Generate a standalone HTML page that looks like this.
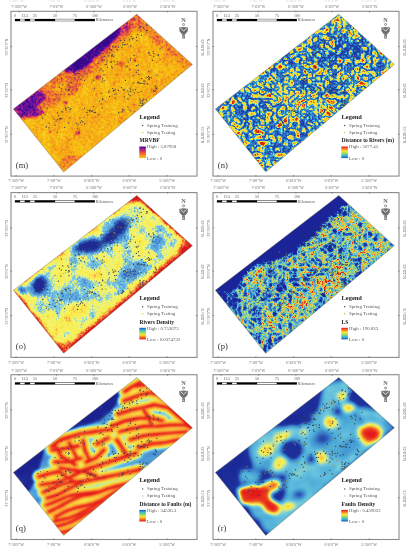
<!DOCTYPE html><html><head><meta charset="utf-8"><style>
html,body{margin:0;padding:0;background:#fff;}
svg{display:block;}
text{font-family:'Liberation Serif',serif;}
.ax{font-size:4.0px;fill:#707070;}
.sb{font-size:3.9px;fill:#555;}
.nn{font-size:6.2px;fill:#666;font-weight:bold;}
.lg{font-size:6.4px;font-weight:bold;fill:#222;}
.lt{font-size:5.5px;font-weight:bold;fill:#222;}
.li{font-size:4.85px;fill:#595959;}
.pl{font-size:8.6px;fill:#333;}
</style></head><body><svg width="410" height="550" viewBox="0 0 410 550"><defs><clipPath id="clipm"><polygon points="125.8,2.9 181.4,53.1 52.7,160.7 2.4,97.7"/></clipPath><filter id="flm" filterUnits="userSpaceOnUse" x="-2" y="-2" width="190" height="168.8" color-interpolation-filters="sRGB"><feGaussianBlur in="SourceGraphic" stdDeviation="1.5" result="s0"/><feTurbulence type="fractalNoise" baseFrequency="0.4" numOctaves="2" seed="3" result="t0"/><feColorMatrix in="t0" type="matrix" values="1 0 0 0 0  1 0 0 0 0  1 0 0 0 0  0 0 0 0 1" result="n0"/><feComposite in="s0" in2="n0" operator="arithmetic" k1="0" k2="0.6944" k3="0.3056" k4="0" result="s1"/><feTurbulence type="fractalNoise" baseFrequency="0.1 0.06" numOctaves="3" seed="4" result="t1"/><feColorMatrix in="t1" type="matrix" values="1 0 0 0 0  1 0 0 0 0  1 0 0 0 0  0 0 0 0 1" result="n1"/><feComposite in="s1" in2="n1" operator="arithmetic" k1="0" k2="0.8372" k3="0.1628" k4="0" result="s2"/><feComponentTransfer in="s2" result="st"><feFuncR type="linear" slope="2.3" intercept="-0.61"/><feFuncG type="linear" slope="2.3" intercept="-0.61"/><feFuncB type="linear" slope="2.3" intercept="-0.61"/><feFuncA type="linear" slope="0" intercept="1"/></feComponentTransfer><feComponentTransfer in="st"><feFuncR type="table" tableValues="0.973 0.972 0.972 0.971 0.971 0.970 0.970 0.970 0.969 0.969 0.968 0.967 0.967 0.966 0.965 0.964 0.963 0.962 0.962 0.961 0.958 0.955 0.953 0.950 0.948 0.945 0.942 0.938 0.932 0.925 0.919 0.913 0.907 0.899 0.885 0.871 0.858 0.844 0.830 0.817 0.792 0.767 0.742 0.718 0.693 0.668 0.637 0.602 0.567 0.532 0.497 0.462 0.431 0.406 0.381 0.356 0.331 0.306 0.288 0.273 0.257 0.242 0.227 0.212"/><feFuncG type="table" tableValues="0.816 0.807 0.797 0.788 0.779 0.770 0.761 0.752 0.743 0.734 0.724 0.715 0.706 0.697 0.688 0.679 0.670 0.660 0.651 0.641 0.625 0.608 0.592 0.575 0.558 0.542 0.525 0.504 0.477 0.451 0.425 0.399 0.373 0.348 0.328 0.308 0.288 0.268 0.249 0.229 0.210 0.191 0.173 0.154 0.135 0.117 0.107 0.102 0.097 0.092 0.087 0.082 0.077 0.073 0.069 0.065 0.060 0.056 0.052 0.048 0.044 0.040 0.036 0.031"/><feFuncB type="table" tableValues="0.125 0.120 0.114 0.108 0.102 0.096 0.091 0.085 0.079 0.073 0.072 0.074 0.077 0.079 0.082 0.084 0.087 0.089 0.092 0.095 0.103 0.112 0.120 0.128 0.136 0.145 0.153 0.162 0.172 0.182 0.192 0.202 0.212 0.224 0.244 0.264 0.284 0.304 0.324 0.344 0.373 0.403 0.433 0.463 0.493 0.523 0.542 0.556 0.569 0.583 0.597 0.611 0.618 0.614 0.610 0.606 0.602 0.597 0.590 0.580 0.570 0.561 0.551 0.541"/><feFuncA type="linear" slope="0" intercept="1"/></feComponentTransfer><feGaussianBlur stdDeviation="0.3"/></filter><linearGradient id="cbm" x1="0" y1="0" x2="0" y2="1"><stop offset="0" stop-color="#4a0c96"/><stop offset="0.25" stop-color="#b01c8a"/><stop offset="0.5" stop-color="#e8483c"/><stop offset="0.75" stop-color="#f88a24"/><stop offset="1" stop-color="#f8c418"/></linearGradient><clipPath id="clipn"><polygon points="125.8,2.9 181.4,53.1 52.7,160.7 2.4,97.7"/></clipPath><filter id="fln" filterUnits="userSpaceOnUse" x="-2" y="-2" width="190" height="168.8" color-interpolation-filters="sRGB"><feGaussianBlur in="SourceGraphic" stdDeviation="3" result="s0"/><feTurbulence type="turbulence" baseFrequency="0.17" numOctaves="2" seed="31" result="t0"/><feColorMatrix in="t0" type="matrix" values="1 0 0 0 0  1 0 0 0 0  1 0 0 0 0  0 0 0 0 1" result="n0"/><feComposite in="s0" in2="n0" operator="arithmetic" k1="0" k2="0.2500" k3="0.7500" k4="0" result="s1"/><feTurbulence type="fractalNoise" baseFrequency="0.035" numOctaves="2" seed="33" result="t1"/><feColorMatrix in="t1" type="matrix" values="1 0 0 0 0  1 0 0 0 0  1 0 0 0 0  0 0 0 0 1" result="n1"/><feComposite in="s1" in2="n1" operator="arithmetic" k1="0" k2="0.8000" k3="0.2000" k4="0" result="s2"/><feComponentTransfer in="s2" result="st"><feFuncR type="linear" slope="1.75" intercept="-0.41"/><feFuncG type="linear" slope="1.75" intercept="-0.41"/><feFuncB type="linear" slope="1.75" intercept="-0.41"/><feFuncA type="linear" slope="0" intercept="1"/></feComponentTransfer><feComponentTransfer in="st"><feFuncR type="table" tableValues="0.122 0.129 0.137 0.145 0.153 0.161 0.170 0.174 0.176 0.177 0.179 0.181 0.183 0.185 0.187 0.189 0.190 0.192 0.194 0.196 0.208 0.220 0.230 0.238 0.245 0.252 0.259 0.266 0.274 0.281 0.370 0.481 0.586 0.673 0.759 0.830 0.895 0.949 0.950 0.951 0.951 0.952 0.953 0.954 0.955 0.955 0.956 0.957 0.958 0.958 0.959 0.960 0.961 0.962 0.962 0.963 0.964 0.965 0.967 0.970 0.971 0.967 0.963 0.959 0.955 0.951 0.947 0.942 0.933 0.920 0.908 0.896 0.883 0.878 0.877 0.875 0.874 0.873 0.872 0.871 0.870 0.869 0.867 0.866 0.865 0.864 0.863 0.862 0.860 0.859 0.858 0.857 0.856 0.855 0.854 0.852 0.851 0.850 0.849 0.848 0.847 0.846 0.844 0.843 0.842 0.841 0.840 0.839 0.838 0.836 0.835 0.834 0.833 0.832 0.831 0.829 0.828 0.827 0.826 0.825 0.824 0.823 0.821 0.820 0.819 0.818 0.817 0.816"/><feFuncG type="table" tableValues="0.243 0.271 0.299 0.327 0.356 0.385 0.413 0.426 0.430 0.433 0.437 0.441 0.444 0.448 0.452 0.456 0.459 0.463 0.467 0.470 0.535 0.603 0.648 0.661 0.673 0.685 0.698 0.710 0.722 0.735 0.767 0.804 0.836 0.855 0.873 0.881 0.884 0.886 0.885 0.884 0.883 0.881 0.880 0.879 0.878 0.877 0.876 0.874 0.873 0.872 0.871 0.870 0.869 0.868 0.866 0.865 0.864 0.863 0.784 0.691 0.622 0.606 0.589 0.573 0.556 0.540 0.524 0.507 0.455 0.387 0.319 0.251 0.183 0.156 0.155 0.154 0.153 0.152 0.150 0.149 0.148 0.147 0.146 0.145 0.144 0.142 0.141 0.140 0.139 0.138 0.137 0.135 0.134 0.133 0.132 0.131 0.130 0.129 0.127 0.126 0.125 0.124 0.123 0.122 0.121 0.119 0.118 0.117 0.116 0.115 0.114 0.113 0.111 0.110 0.109 0.108 0.107 0.106 0.104 0.103 0.102 0.101 0.100 0.099 0.098 0.096 0.095 0.094"/><feFuncB type="table" tableValues="0.651 0.666 0.682 0.700 0.720 0.741 0.761 0.769 0.771 0.772 0.773 0.774 0.776 0.777 0.778 0.779 0.781 0.782 0.783 0.784 0.808 0.832 0.845 0.841 0.837 0.833 0.829 0.825 0.821 0.817 0.738 0.639 0.552 0.503 0.454 0.382 0.302 0.235 0.234 0.234 0.233 0.232 0.231 0.231 0.230 0.229 0.228 0.227 0.227 0.226 0.225 0.224 0.224 0.223 0.222 0.221 0.220 0.220 0.199 0.174 0.156 0.151 0.147 0.143 0.139 0.135 0.131 0.127 0.121 0.115 0.109 0.103 0.097 0.094 0.094 0.094 0.094 0.094 0.094 0.094 0.094 0.094 0.094 0.094 0.094 0.094 0.094 0.094 0.094 0.094 0.094 0.094 0.094 0.094 0.094 0.094 0.094 0.094 0.094 0.094 0.094 0.094 0.094 0.094 0.094 0.094 0.094 0.094 0.094 0.094 0.094 0.094 0.094 0.094 0.094 0.094 0.094 0.094 0.094 0.094 0.094 0.094 0.094 0.094 0.094 0.094 0.094 0.094"/><feFuncA type="linear" slope="0" intercept="1"/></feComponentTransfer><feGaussianBlur stdDeviation="0.6"/></filter><linearGradient id="cbn" x1="0" y1="0" x2="0" y2="1"><stop offset="0" stop-color="#e8141c"/><stop offset="0.2" stop-color="#f87c20"/><stop offset="0.4" stop-color="#f8e838"/><stop offset="0.6" stop-color="#98d860"/><stop offset="0.8" stop-color="#30b8e0"/><stop offset="1" stop-color="#2050b8"/></linearGradient><clipPath id="clipo"><polygon points="125.8,2.9 181.4,53.1 52.7,160.7 2.4,97.7"/></clipPath><filter id="flo" filterUnits="userSpaceOnUse" x="-2" y="-2" width="190" height="168.8" color-interpolation-filters="sRGB"><feGaussianBlur in="SourceGraphic" stdDeviation="3" result="s0"/><feTurbulence type="fractalNoise" baseFrequency="0.09" numOctaves="3" seed="24" result="t0"/><feColorMatrix in="t0" type="matrix" values="1 0 0 0 0  1 0 0 0 0  1 0 0 0 0  0 0 0 0 1" result="n0"/><feComposite in="s0" in2="n0" operator="arithmetic" k1="0" k2="0.7955" k3="0.2045" k4="0" result="s1"/><feTurbulence type="fractalNoise" baseFrequency="0.6" numOctaves="1" seed="22" result="t1"/><feColorMatrix in="t1" type="matrix" values="1 0 0 0 0  1 0 0 0 0  1 0 0 0 0  0 0 0 0 1" result="n1"/><feComposite in="s1" in2="n1" operator="arithmetic" k1="0" k2="0.8800" k3="0.1200" k4="0" result="s2"/><feComponentTransfer in="s2" result="st"><feFuncR type="linear" slope="2.56" intercept="-0.77"/><feFuncG type="linear" slope="2.56" intercept="-0.77"/><feFuncB type="linear" slope="2.56" intercept="-0.77"/><feFuncA type="linear" slope="0" intercept="1"/></feComponentTransfer><feComponentTransfer in="st"><feFuncR type="table" tableValues="0.843 0.854 0.864 0.875 0.885 0.896 0.907 0.919 0.931 0.943 0.956 0.968 0.975 0.978 0.982 0.986 0.987 0.982 0.977 0.972 0.971 0.969 0.968 0.966 0.965 0.963 0.962 0.960 0.958 0.955 0.887 0.819 0.735 0.635 0.535 0.503 0.472 0.441 0.409 0.378 0.362 0.347 0.333 0.318 0.303 0.288 0.273 0.258 0.243 0.228 0.213 0.198 0.186 0.180 0.174 0.169 0.163 0.157 0.151 0.145 0.139 0.133 0.127 0.122"/><feFuncG type="table" tableValues="0.098 0.129 0.159 0.190 0.220 0.251 0.281 0.326 0.377 0.429 0.480 0.532 0.584 0.638 0.691 0.744 0.796 0.840 0.885 0.926 0.929 0.932 0.935 0.938 0.941 0.944 0.948 0.951 0.954 0.956 0.938 0.919 0.891 0.854 0.816 0.791 0.766 0.741 0.717 0.692 0.667 0.642 0.617 0.592 0.567 0.542 0.517 0.492 0.468 0.443 0.418 0.393 0.370 0.352 0.334 0.315 0.297 0.279 0.260 0.242 0.224 0.205 0.187 0.169"/><feFuncB type="table" tableValues="0.110 0.119 0.127 0.136 0.145 0.153 0.162 0.175 0.189 0.203 0.217 0.231 0.247 0.265 0.283 0.300 0.311 0.301 0.291 0.284 0.299 0.315 0.331 0.346 0.362 0.377 0.393 0.408 0.424 0.441 0.515 0.590 0.677 0.777 0.876 0.878 0.878 0.878 0.878 0.878 0.869 0.859 0.849 0.839 0.829 0.819 0.806 0.791 0.776 0.761 0.746 0.731 0.717 0.704 0.691 0.678 0.665 0.651 0.638 0.625 0.612 0.599 0.586 0.573"/><feFuncA type="linear" slope="0" intercept="1"/></feComponentTransfer></filter><linearGradient id="cbo" x1="0" y1="0" x2="0" y2="1"><stop offset="0" stop-color="#2050b8"/><stop offset="0.2" stop-color="#30b8e0"/><stop offset="0.4" stop-color="#98d860"/><stop offset="0.6" stop-color="#f8e838"/><stop offset="0.8" stop-color="#f87c20"/><stop offset="1" stop-color="#e8141c"/></linearGradient><clipPath id="clipp"><polygon points="125.8,2.9 181.4,53.1 52.7,160.7 2.4,97.7"/></clipPath><filter id="flp" filterUnits="userSpaceOnUse" x="-2" y="-2" width="190" height="168.8" color-interpolation-filters="sRGB"><feGaussianBlur in="SourceGraphic" stdDeviation="3" result="s0"/><feTurbulence type="fractalNoise" baseFrequency="0.9" numOctaves="1" seed="41" result="t0"/><feColorMatrix in="t0" type="matrix" values="1 0 0 0 0  1 0 0 0 0  1 0 0 0 0  0 0 0 0 1" result="n0"/><feComposite in="s0" in2="n0" operator="arithmetic" k1="0" k2="0.8929" k3="0.1071" k4="0" result="s1"/><feTurbulence type="turbulence" baseFrequency="0.08" numOctaves="2" seed="42" result="t1"/><feColorMatrix in="t1" type="matrix" values="-1 0 0 0 1  -1 0 0 0 1  -1 0 0 0 1  0 0 0 0 1" result="n1"/><feComposite in="s1" in2="n1" operator="arithmetic" k1="0" k2="0.7368" k3="0.2632" k4="0" result="s2"/><feTurbulence type="turbulence" baseFrequency="0.2" numOctaves="2" seed="43" result="t2"/><feColorMatrix in="t2" type="matrix" values="-1 0 0 0 1  -1 0 0 0 1  -1 0 0 0 1  0 0 0 0 1" result="n2"/><feComposite in="s2" in2="n2" operator="arithmetic" k1="0" k2="0.7600" k3="0.2400" k4="0" result="s3"/><feComponentTransfer in="s3" result="st"><feFuncR type="linear" slope="4.5" intercept="-2.37"/><feFuncG type="linear" slope="4.5" intercept="-2.37"/><feFuncB type="linear" slope="4.5" intercept="-2.37"/><feFuncA type="linear" slope="0" intercept="1"/></feComponentTransfer><feComponentTransfer in="st"><feFuncR type="table" tableValues="0.102 0.105 0.108 0.111 0.114 0.117 0.120 0.131 0.148 0.164 0.180 0.209 0.243 0.276 0.305 0.332 0.359 0.398 0.456 0.515 0.578 0.658 0.738 0.818 0.872 0.911 0.951 0.963 0.941 0.919 0.889 0.852 0.816"/><feFuncG type="table" tableValues="0.141 0.155 0.168 0.182 0.195 0.209 0.222 0.258 0.309 0.360 0.411 0.472 0.536 0.599 0.649 0.689 0.728 0.760 0.780 0.799 0.819 0.836 0.854 0.872 0.828 0.750 0.671 0.560 0.408 0.255 0.161 0.112 0.063"/><feFuncB type="table" tableValues="0.596 0.603 0.611 0.618 0.625 0.633 0.640 0.663 0.695 0.728 0.761 0.787 0.812 0.836 0.842 0.832 0.822 0.787 0.709 0.631 0.553 0.482 0.411 0.339 0.289 0.249 0.210 0.179 0.157 0.135 0.112 0.087 0.063"/><feFuncA type="linear" slope="0" intercept="1"/></feComponentTransfer><feGaussianBlur stdDeviation="0.35"/></filter><linearGradient id="cbp" x1="0" y1="0" x2="0" y2="1"><stop offset="0" stop-color="#e8141c"/><stop offset="0.2" stop-color="#f87c20"/><stop offset="0.4" stop-color="#f8e838"/><stop offset="0.6" stop-color="#98d860"/><stop offset="0.8" stop-color="#30b8e0"/><stop offset="1" stop-color="#2050b8"/></linearGradient><clipPath id="clipq"><polygon points="125.8,2.9 181.4,53.1 52.7,160.7 2.4,97.7"/></clipPath><filter id="flq" filterUnits="userSpaceOnUse" x="-2" y="-2" width="190" height="168.8" color-interpolation-filters="sRGB"><feGaussianBlur in="SourceGraphic" stdDeviation="1.2" result="fld"/><feTurbulence type="fractalNoise" baseFrequency="0.08" numOctaves="2" seed="51" result="t"/><feColorMatrix in="t" type="matrix" values="1 0 0 0 0  1 0 0 0 0  1 0 0 0 0  0 0 0 0 1" result="nz"/><feComposite in="fld" in2="nz" operator="arithmetic" k1="0" k2="1" k3="0.1" k4="-0.05" result="sum"/><feComponentTransfer in="sum"><feFuncR type="table" tableValues="0.894 0.906 0.919 0.931 0.940 0.949 0.958 0.967 0.973 0.973 0.973 0.973 0.973 0.973 0.973 0.973 0.925 0.876 0.827 0.730 0.616 0.515 0.464 0.413 0.361 0.317 0.276 0.236 0.195 0.171 0.151 0.130 0.110"/><feFuncG type="table" tableValues="0.102 0.141 0.180 0.220 0.281 0.347 0.414 0.480 0.541 0.588 0.634 0.681 0.729 0.778 0.827 0.876 0.893 0.907 0.922 0.898 0.861 0.823 0.783 0.743 0.703 0.635 0.553 0.471 0.390 0.323 0.260 0.197 0.133"/><feFuncB type="table" tableValues="0.110 0.115 0.120 0.125 0.134 0.144 0.155 0.165 0.176 0.186 0.196 0.206 0.217 0.228 0.239 0.251 0.340 0.434 0.527 0.651 0.786 0.894 0.891 0.889 0.887 0.863 0.828 0.793 0.758 0.712 0.663 0.614 0.565"/><feFuncA type="linear" slope="0" intercept="1"/></feComponentTransfer></filter><linearGradient id="cbq" x1="0" y1="0" x2="0" y2="1"><stop offset="0" stop-color="#2050b8"/><stop offset="0.2" stop-color="#30b8e0"/><stop offset="0.4" stop-color="#98d860"/><stop offset="0.6" stop-color="#f8e838"/><stop offset="0.8" stop-color="#f87c20"/><stop offset="1" stop-color="#e8141c"/></linearGradient><clipPath id="clipr"><polygon points="125.8,2.9 181.4,53.1 52.7,160.7 2.4,97.7"/></clipPath><filter id="flr" filterUnits="userSpaceOnUse" x="-2" y="-2" width="190" height="168.8" color-interpolation-filters="sRGB"><feGaussianBlur in="SourceGraphic" stdDeviation="2.6" result="fld"/><feTurbulence type="fractalNoise" baseFrequency="0.05" numOctaves="2" seed="11" result="t"/><feColorMatrix in="t" type="matrix" values="1 0 0 0 0  1 0 0 0 0  1 0 0 0 0  0 0 0 0 1" result="nz"/><feComposite in="fld" in2="nz" operator="arithmetic" k1="0" k2="1" k3="0.25" k4="-0.12" result="sum"/><feComponentTransfer in="sum"><feFuncR type="table" tableValues="0.102 0.105 0.108 0.111 0.114 0.117 0.120 0.138 0.166 0.193 0.221 0.239 0.254 0.269 0.284 0.315 0.357 0.399 0.474 0.599 0.724 0.821 0.891 0.962 0.967 0.970 0.972 0.963 0.951 0.938 0.924 0.909 0.894"/><feFuncG type="table" tableValues="0.141 0.152 0.163 0.174 0.185 0.196 0.207 0.252 0.320 0.387 0.454 0.505 0.550 0.595 0.641 0.682 0.722 0.761 0.800 0.838 0.876 0.904 0.922 0.940 0.866 0.787 0.709 0.590 0.458 0.337 0.259 0.180 0.102"/><feFuncB type="table" tableValues="0.580 0.588 0.595 0.602 0.610 0.617 0.625 0.651 0.690 0.728 0.767 0.789 0.806 0.823 0.840 0.853 0.863 0.873 0.840 0.745 0.650 0.545 0.432 0.318 0.285 0.256 0.227 0.196 0.166 0.139 0.129 0.120 0.110"/><feFuncA type="linear" slope="0" intercept="1"/></feComponentTransfer></filter><linearGradient id="cbr" x1="0" y1="0" x2="0" y2="1"><stop offset="0" stop-color="#e8141c"/><stop offset="0.2" stop-color="#f87c20"/><stop offset="0.4" stop-color="#f8e838"/><stop offset="0.6" stop-color="#98d860"/><stop offset="0.8" stop-color="#30b8e0"/><stop offset="1" stop-color="#2050b8"/></linearGradient><g id="dots"><circle cx="118.65" cy="27.39" r="0.55" fill="#b09838"/><circle cx="118.65" cy="28.5" r="0.62" fill="#2c3850"/><circle cx="103.09" cy="40.31" r="0.55" fill="#b09838"/><circle cx="107.56" cy="35.85" r="0.62" fill="#2c3850"/><circle cx="143.08" cy="12.22" r="0.55" fill="#b09838"/><circle cx="120.29" cy="25.44" r="0.62" fill="#2c3850"/><circle cx="121.79" cy="29.55" r="0.55" fill="#b09838"/><circle cx="117.66" cy="27.12" r="0.55" fill="#b09838"/><circle cx="119.03" cy="30.5" r="0.55" fill="#b09838"/><circle cx="106.18" cy="38.2" r="0.62" fill="#2c3850"/><circle cx="135.69" cy="19.11" r="0.62" fill="#2c3850"/><circle cx="113.7" cy="28.97" r="0.62" fill="#2c3850"/><circle cx="127.33" cy="24.81" r="0.55" fill="#b09838"/><circle cx="117.89" cy="26.94" r="0.55" fill="#b09838"/><circle cx="100.99" cy="44.92" r="0.62" fill="#2c3850"/><circle cx="136.69" cy="20.4" r="0.55" fill="#b09838"/><circle cx="129.37" cy="15.26" r="0.62" fill="#2c3850"/><circle cx="128.41" cy="21.1" r="0.55" fill="#b09838"/><circle cx="100.75" cy="44.25" r="0.62" fill="#2c3850"/><circle cx="100.46" cy="48.16" r="0.55" fill="#b09838"/><circle cx="114.08" cy="33.26" r="0.62" fill="#2c3850"/><circle cx="122.11" cy="26.99" r="0.62" fill="#2c3850"/><circle cx="128.88" cy="19.5" r="0.55" fill="#b09838"/><circle cx="101.79" cy="43.43" r="0.55" fill="#b09838"/><circle cx="116.21" cy="32.77" r="0.62" fill="#2c3850"/><circle cx="135.61" cy="13.52" r="0.62" fill="#2c3850"/><circle cx="113.49" cy="33.24" r="0.62" fill="#2c3850"/><circle cx="115.91" cy="27.19" r="0.55" fill="#b09838"/><circle cx="121.45" cy="27.64" r="0.62" fill="#2c3850"/><circle cx="125.63" cy="26.18" r="0.62" fill="#2c3850"/><circle cx="120.67" cy="27.19" r="0.55" fill="#b09838"/><circle cx="117.04" cy="29.81" r="0.55" fill="#b09838"/><circle cx="143.2" cy="11.99" r="0.55" fill="#b09838"/><circle cx="106.92" cy="38.71" r="0.62" fill="#2c3850"/><circle cx="111.93" cy="31.23" r="0.62" fill="#2c3850"/><circle cx="117.34" cy="36.01" r="0.55" fill="#b09838"/><circle cx="110" cy="34.76" r="0.55" fill="#b09838"/><circle cx="110.85" cy="36.23" r="0.62" fill="#2c3850"/><circle cx="118.93" cy="29.75" r="0.55" fill="#b09838"/><circle cx="136.35" cy="19.2" r="0.62" fill="#2c3850"/><circle cx="107.14" cy="34.22" r="0.55" fill="#b09838"/><circle cx="126.29" cy="23.05" r="0.62" fill="#2c3850"/><circle cx="101.29" cy="43.36" r="0.62" fill="#2c3850"/><circle cx="126.03" cy="28.96" r="0.62" fill="#2c3850"/><circle cx="119.54" cy="34.59" r="0.62" fill="#2c3850"/><circle cx="96.11" cy="49.58" r="0.62" fill="#2c3850"/><circle cx="89.74" cy="42.32" r="0.62" fill="#2c3850"/><circle cx="100.52" cy="50.52" r="0.62" fill="#2c3850"/><circle cx="93.3" cy="48.53" r="0.62" fill="#2c3850"/><circle cx="93.11" cy="63.65" r="0.62" fill="#2c3850"/><circle cx="91.98" cy="48.99" r="0.62" fill="#2c3850"/><circle cx="96.57" cy="55.95" r="0.62" fill="#2c3850"/><circle cx="100.57" cy="55.2" r="0.62" fill="#2c3850"/><circle cx="106.34" cy="50.26" r="0.62" fill="#2c3850"/><circle cx="88.76" cy="56.01" r="0.55" fill="#b09838"/><circle cx="102.95" cy="50.06" r="0.62" fill="#2c3850"/><circle cx="86.92" cy="51.95" r="0.55" fill="#b09838"/><circle cx="108.34" cy="58.6" r="0.55" fill="#b09838"/><circle cx="90.06" cy="57.69" r="0.62" fill="#2c3850"/><circle cx="103.74" cy="53.14" r="0.55" fill="#b09838"/><circle cx="91.92" cy="59.64" r="0.62" fill="#2c3850"/><circle cx="103.78" cy="51.09" r="0.55" fill="#b09838"/><circle cx="91.6" cy="67.39" r="0.62" fill="#2c3850"/><circle cx="96.47" cy="53.92" r="0.55" fill="#b09838"/><circle cx="95.38" cy="52.75" r="0.62" fill="#2c3850"/><circle cx="93.33" cy="45.17" r="0.62" fill="#2c3850"/><circle cx="86.82" cy="52.31" r="0.62" fill="#2c3850"/><circle cx="94.25" cy="53.25" r="0.62" fill="#2c3850"/><circle cx="99.74" cy="50.75" r="0.62" fill="#2c3850"/><circle cx="101.12" cy="56.58" r="0.62" fill="#2c3850"/><circle cx="119.29" cy="48.89" r="0.62" fill="#2c3850"/><circle cx="125.89" cy="54.4" r="0.62" fill="#2c3850"/><circle cx="118.93" cy="58.42" r="0.62" fill="#2c3850"/><circle cx="126.59" cy="55.04" r="0.55" fill="#b09838"/><circle cx="106.3" cy="52.69" r="0.62" fill="#2c3850"/><circle cx="117.3" cy="50.84" r="0.62" fill="#2c3850"/><circle cx="125.36" cy="54.2" r="0.62" fill="#2c3850"/><circle cx="124.07" cy="54.24" r="0.55" fill="#b09838"/><circle cx="127.26" cy="53.49" r="0.62" fill="#2c3850"/><circle cx="116.3" cy="54.69" r="0.62" fill="#2c3850"/><circle cx="127.44" cy="59.08" r="0.62" fill="#2c3850"/><circle cx="117.87" cy="50.69" r="0.55" fill="#b09838"/><circle cx="124.44" cy="49.61" r="0.62" fill="#2c3850"/><circle cx="115.11" cy="55.59" r="0.62" fill="#2c3850"/><circle cx="123.03" cy="44.09" r="0.62" fill="#2c3850"/><circle cx="119.81" cy="46.98" r="0.62" fill="#2c3850"/><circle cx="137.75" cy="59.74" r="0.62" fill="#2c3850"/><circle cx="130.7" cy="66.99" r="0.62" fill="#2c3850"/><circle cx="138.11" cy="67.53" r="0.62" fill="#2c3850"/><circle cx="116.93" cy="87.29" r="0.62" fill="#2c3850"/><circle cx="130.98" cy="72.03" r="0.62" fill="#2c3850"/><circle cx="137.48" cy="65.08" r="0.62" fill="#2c3850"/><circle cx="130.05" cy="67.92" r="0.55" fill="#b09838"/><circle cx="115.52" cy="88.18" r="0.55" fill="#b09838"/><circle cx="122.16" cy="78.72" r="0.62" fill="#2c3850"/><circle cx="144.66" cy="68.76" r="0.55" fill="#b09838"/><circle cx="127.25" cy="70.81" r="0.62" fill="#2c3850"/><circle cx="138.02" cy="67.59" r="0.62" fill="#2c3850"/><circle cx="124.51" cy="78.44" r="0.62" fill="#2c3850"/><circle cx="145.78" cy="63.61" r="0.62" fill="#2c3850"/><circle cx="120.19" cy="75.74" r="0.55" fill="#b09838"/><circle cx="140.2" cy="66.54" r="0.62" fill="#2c3850"/><circle cx="130.18" cy="80.04" r="0.62" fill="#2c3850"/><circle cx="119.16" cy="80.32" r="0.62" fill="#2c3850"/><circle cx="128.72" cy="72.31" r="0.62" fill="#2c3850"/><circle cx="115.72" cy="78.81" r="0.55" fill="#b09838"/><circle cx="129.26" cy="63.18" r="0.55" fill="#b09838"/><circle cx="129.9" cy="71.88" r="0.62" fill="#2c3850"/><circle cx="132.97" cy="72.29" r="0.62" fill="#2c3850"/><circle cx="122.4" cy="71.38" r="0.55" fill="#b09838"/><circle cx="119.59" cy="78.53" r="0.62" fill="#2c3850"/><circle cx="123.09" cy="81.52" r="0.62" fill="#2c3850"/><circle cx="136.49" cy="72.62" r="0.62" fill="#2c3850"/><circle cx="125.43" cy="60.82" r="0.62" fill="#2c3850"/><circle cx="127.13" cy="80.96" r="0.62" fill="#2c3850"/><circle cx="135.09" cy="79.76" r="0.55" fill="#b09838"/><circle cx="136.14" cy="66.13" r="0.62" fill="#2c3850"/><circle cx="113.3" cy="78.05" r="0.62" fill="#2c3850"/><circle cx="133.2" cy="72.33" r="0.62" fill="#2c3850"/><circle cx="132.89" cy="69.79" r="0.62" fill="#2c3850"/><circle cx="126.62" cy="69.78" r="0.55" fill="#b09838"/><circle cx="126.81" cy="71.79" r="0.62" fill="#2c3850"/><circle cx="119.07" cy="76.72" r="0.62" fill="#2c3850"/><circle cx="121.03" cy="80.01" r="0.55" fill="#b09838"/><circle cx="128.04" cy="72.13" r="0.55" fill="#b09838"/><circle cx="123.55" cy="85.94" r="0.55" fill="#b09838"/><circle cx="125.21" cy="76.69" r="0.55" fill="#b09838"/><circle cx="138.91" cy="61" r="0.55" fill="#b09838"/><circle cx="134.77" cy="66.85" r="0.55" fill="#b09838"/><circle cx="121.5" cy="90.91" r="0.55" fill="#b09838"/><circle cx="122.16" cy="63.74" r="0.62" fill="#2c3850"/><circle cx="121.66" cy="64.58" r="0.55" fill="#b09838"/><circle cx="114.47" cy="69.19" r="0.62" fill="#2c3850"/><circle cx="134.12" cy="69.8" r="0.62" fill="#2c3850"/><circle cx="120.77" cy="84.82" r="0.55" fill="#b09838"/><circle cx="138.64" cy="66.22" r="0.62" fill="#2c3850"/><circle cx="117.74" cy="82.86" r="0.62" fill="#2c3850"/><circle cx="117.2" cy="72.43" r="0.55" fill="#b09838"/><circle cx="122.67" cy="71.63" r="0.62" fill="#2c3850"/><circle cx="127.71" cy="71.08" r="0.62" fill="#2c3850"/><circle cx="127.8" cy="63.1" r="0.62" fill="#2c3850"/><circle cx="73.47" cy="69.2" r="0.62" fill="#2c3850"/><circle cx="61.07" cy="70.03" r="0.55" fill="#b09838"/><circle cx="67.98" cy="65.78" r="0.62" fill="#2c3850"/><circle cx="73.38" cy="63.38" r="0.55" fill="#b09838"/><circle cx="69.87" cy="67.95" r="0.62" fill="#2c3850"/><circle cx="60.2" cy="71.28" r="0.62" fill="#2c3850"/><circle cx="64.17" cy="63.07" r="0.62" fill="#2c3850"/><circle cx="67.08" cy="62.16" r="0.62" fill="#2c3850"/><circle cx="68.47" cy="67.08" r="0.55" fill="#b09838"/><circle cx="63.89" cy="66.43" r="0.62" fill="#2c3850"/><circle cx="72.06" cy="65.3" r="0.62" fill="#2c3850"/><circle cx="68.22" cy="62.09" r="0.62" fill="#2c3850"/><circle cx="60.12" cy="69.18" r="0.55" fill="#b09838"/><circle cx="73.32" cy="61.2" r="0.55" fill="#b09838"/><circle cx="70.93" cy="65.26" r="0.55" fill="#b09838"/><circle cx="66.15" cy="59.35" r="0.55" fill="#b09838"/><circle cx="71.23" cy="74.98" r="0.55" fill="#b09838"/><circle cx="73.54" cy="57.02" r="0.62" fill="#2c3850"/><circle cx="49.99" cy="83.44" r="0.62" fill="#2c3850"/><circle cx="48.43" cy="75.99" r="0.62" fill="#2c3850"/><circle cx="58.41" cy="78.58" r="0.62" fill="#2c3850"/><circle cx="50.43" cy="66.47" r="0.62" fill="#2c3850"/><circle cx="63.01" cy="76.87" r="0.55" fill="#b09838"/><circle cx="52.7" cy="80.83" r="0.55" fill="#b09838"/><circle cx="47.35" cy="88.57" r="0.62" fill="#2c3850"/><circle cx="61.84" cy="74.37" r="0.55" fill="#b09838"/><circle cx="57.59" cy="77.98" r="0.62" fill="#2c3850"/><circle cx="56.86" cy="73.35" r="0.62" fill="#2c3850"/><circle cx="50.34" cy="77.5" r="0.62" fill="#2c3850"/><circle cx="51.8" cy="73.35" r="0.62" fill="#2c3850"/><circle cx="44" cy="82.65" r="0.62" fill="#2c3850"/><circle cx="58.03" cy="83.1" r="0.62" fill="#2c3850"/><circle cx="57.24" cy="79.52" r="0.62" fill="#2c3850"/><circle cx="54.97" cy="77.82" r="0.62" fill="#2c3850"/><circle cx="57.83" cy="74.47" r="0.62" fill="#2c3850"/><circle cx="54.22" cy="80.23" r="0.55" fill="#b09838"/><circle cx="102.26" cy="79.59" r="0.62" fill="#2c3850"/><circle cx="105.21" cy="82.69" r="0.62" fill="#2c3850"/><circle cx="91.19" cy="96.58" r="0.62" fill="#2c3850"/><circle cx="110.76" cy="76.43" r="0.62" fill="#2c3850"/><circle cx="103.57" cy="82.95" r="0.62" fill="#2c3850"/><circle cx="98.11" cy="79.65" r="0.62" fill="#2c3850"/><circle cx="118.21" cy="72.55" r="0.55" fill="#b09838"/><circle cx="116.86" cy="79.73" r="0.62" fill="#2c3850"/><circle cx="104.4" cy="86.74" r="0.62" fill="#2c3850"/><circle cx="103.72" cy="77.48" r="0.55" fill="#b09838"/><circle cx="98.48" cy="85.15" r="0.62" fill="#2c3850"/><circle cx="112.32" cy="78.89" r="0.62" fill="#2c3850"/><circle cx="104.66" cy="78.48" r="0.62" fill="#2c3850"/><circle cx="91.86" cy="88.32" r="0.62" fill="#2c3850"/><circle cx="94.78" cy="89.68" r="0.55" fill="#b09838"/><circle cx="103.02" cy="79.17" r="0.62" fill="#2c3850"/><circle cx="119.14" cy="84.37" r="0.62" fill="#2c3850"/><circle cx="97.79" cy="81.3" r="0.62" fill="#2c3850"/><circle cx="113.66" cy="85.56" r="0.62" fill="#2c3850"/><circle cx="90.25" cy="81.93" r="0.62" fill="#2c3850"/><circle cx="101.72" cy="77.21" r="0.62" fill="#2c3850"/><circle cx="109.33" cy="74.97" r="0.55" fill="#b09838"/><circle cx="105.45" cy="88.28" r="0.55" fill="#b09838"/><circle cx="114.01" cy="79.82" r="0.55" fill="#b09838"/><circle cx="107.46" cy="78.98" r="0.62" fill="#2c3850"/><circle cx="90.81" cy="92.75" r="0.55" fill="#b09838"/><circle cx="78.84" cy="97.4" r="0.55" fill="#b09838"/><circle cx="81.61" cy="99.05" r="0.55" fill="#b09838"/><circle cx="88.7" cy="90.03" r="0.62" fill="#2c3850"/><circle cx="73.42" cy="97.07" r="0.62" fill="#2c3850"/><circle cx="73.58" cy="105.88" r="0.55" fill="#b09838"/><circle cx="86.92" cy="93.65" r="0.55" fill="#b09838"/><circle cx="79.85" cy="98.9" r="0.62" fill="#2c3850"/><circle cx="76.92" cy="99.03" r="0.62" fill="#2c3850"/><circle cx="75.95" cy="101.14" r="0.62" fill="#2c3850"/><circle cx="93.41" cy="89.34" r="0.55" fill="#b09838"/><circle cx="91.55" cy="87.37" r="0.62" fill="#2c3850"/><circle cx="84.69" cy="96.72" r="0.55" fill="#b09838"/><circle cx="81.34" cy="99.81" r="0.62" fill="#2c3850"/><circle cx="82.96" cy="101.09" r="0.62" fill="#2c3850"/><circle cx="80.76" cy="100.05" r="0.62" fill="#2c3850"/><circle cx="85.45" cy="88.48" r="0.55" fill="#b09838"/><circle cx="82.61" cy="94.97" r="0.62" fill="#2c3850"/><circle cx="78.85" cy="100.46" r="0.62" fill="#2c3850"/><circle cx="90.2" cy="92.45" r="0.62" fill="#2c3850"/><circle cx="97.07" cy="87.56" r="0.55" fill="#b09838"/><circle cx="94.68" cy="96.25" r="0.55" fill="#b09838"/><circle cx="47.41" cy="104.51" r="0.62" fill="#2c3850"/><circle cx="44.02" cy="113.98" r="0.62" fill="#2c3850"/><circle cx="49.22" cy="107.34" r="0.62" fill="#2c3850"/><circle cx="51.62" cy="100.66" r="0.62" fill="#2c3850"/><circle cx="46.55" cy="101.47" r="0.62" fill="#2c3850"/><circle cx="37.61" cy="117.84" r="0.55" fill="#b09838"/><circle cx="46.42" cy="108.22" r="0.62" fill="#2c3850"/><circle cx="50.96" cy="107.22" r="0.62" fill="#2c3850"/><circle cx="45.16" cy="109.86" r="0.62" fill="#2c3850"/><circle cx="35.37" cy="115.58" r="0.62" fill="#2c3850"/><circle cx="50.42" cy="100.56" r="0.62" fill="#2c3850"/><circle cx="49.99" cy="107.47" r="0.62" fill="#2c3850"/><circle cx="42.92" cy="107.71" r="0.62" fill="#2c3850"/><circle cx="50.81" cy="111.47" r="0.55" fill="#b09838"/><circle cx="38.1" cy="111.81" r="0.62" fill="#2c3850"/><circle cx="59.06" cy="98.15" r="0.62" fill="#2c3850"/><circle cx="38" cy="116.45" r="0.62" fill="#2c3850"/><circle cx="35.22" cy="113.73" r="0.55" fill="#b09838"/><circle cx="48.55" cy="107.32" r="0.62" fill="#2c3850"/><circle cx="59.8" cy="97.47" r="0.62" fill="#2c3850"/><circle cx="69.03" cy="106.53" r="0.62" fill="#2c3850"/><circle cx="67.09" cy="113.7" r="0.62" fill="#2c3850"/><circle cx="65.7" cy="112.11" r="0.62" fill="#2c3850"/><circle cx="70.28" cy="109.45" r="0.62" fill="#2c3850"/><circle cx="66.65" cy="116.83" r="0.62" fill="#2c3850"/><circle cx="53.69" cy="116.06" r="0.62" fill="#2c3850"/><circle cx="78.59" cy="99.32" r="0.62" fill="#2c3850"/><circle cx="73.67" cy="112.55" r="0.62" fill="#2c3850"/><circle cx="84.63" cy="101.11" r="0.62" fill="#2c3850"/><circle cx="71.75" cy="110.33" r="0.62" fill="#2c3850"/><circle cx="68.24" cy="111.81" r="0.55" fill="#b09838"/><circle cx="76.59" cy="105.84" r="0.55" fill="#b09838"/><circle cx="67.57" cy="112.64" r="0.55" fill="#b09838"/><circle cx="57.34" cy="111.74" r="0.62" fill="#2c3850"/><circle cx="87.82" cy="103.05" r="0.62" fill="#2c3850"/><circle cx="76.82" cy="103.56" r="0.62" fill="#2c3850"/><circle cx="46.18" cy="120.73" r="0.62" fill="#2c3850"/><circle cx="69.58" cy="111.05" r="0.62" fill="#2c3850"/><circle cx="139.09" cy="43.76" r="0.62" fill="#2c3850"/><circle cx="147.11" cy="43.4" r="0.62" fill="#2c3850"/><circle cx="142.84" cy="42.12" r="0.62" fill="#2c3850"/><circle cx="147.21" cy="44.33" r="0.62" fill="#2c3850"/><circle cx="140.45" cy="44.3" r="0.55" fill="#b09838"/><circle cx="148.98" cy="37.67" r="0.62" fill="#2c3850"/><circle cx="137.89" cy="41.34" r="0.62" fill="#2c3850"/><circle cx="142.1" cy="40.32" r="0.62" fill="#2c3850"/><circle cx="141.73" cy="49.1" r="0.62" fill="#2c3850"/><circle cx="141.67" cy="46.5" r="0.55" fill="#b09838"/><circle cx="142.57" cy="45.01" r="0.62" fill="#2c3850"/><circle cx="137.89" cy="41.58" r="0.62" fill="#2c3850"/><circle cx="130.09" cy="19.79" r="0.62" fill="#2c3850"/><circle cx="140.54" cy="16.21" r="0.62" fill="#2c3850"/><circle cx="135.17" cy="20.71" r="0.62" fill="#2c3850"/><circle cx="138.58" cy="13.83" r="0.62" fill="#2c3850"/><circle cx="138.6" cy="17.07" r="0.55" fill="#b09838"/><circle cx="141.22" cy="15.64" r="0.62" fill="#2c3850"/><circle cx="128.9" cy="15.96" r="0.62" fill="#2c3850"/><circle cx="135.91" cy="12.59" r="0.55" fill="#b09838"/><circle cx="132.28" cy="16.63" r="0.62" fill="#2c3850"/><circle cx="130.67" cy="23.84" r="0.62" fill="#2c3850"/><circle cx="32.17" cy="95.91" r="0.55" fill="#b09838"/><circle cx="26.84" cy="98.7" r="0.62" fill="#2c3850"/><circle cx="32.59" cy="101.65" r="0.62" fill="#2c3850"/><circle cx="33.81" cy="91.9" r="0.55" fill="#b09838"/><circle cx="33.96" cy="103.34" r="0.62" fill="#2c3850"/><circle cx="36.23" cy="96.89" r="0.62" fill="#2c3850"/><circle cx="29.34" cy="97.05" r="0.62" fill="#2c3850"/><circle cx="31.74" cy="106.88" r="0.62" fill="#2c3850"/><circle cx="102.82" cy="44.82" r="0.62" fill="#2c3850"/><circle cx="104.3" cy="35.6" r="0.62" fill="#2c3850"/><circle cx="101.05" cy="38.72" r="0.62" fill="#2c3850"/><circle cx="109.89" cy="29.39" r="0.62" fill="#2c3850"/><circle cx="91.96" cy="42.26" r="0.62" fill="#2c3850"/><circle cx="98.93" cy="41.02" r="0.62" fill="#2c3850"/><circle cx="101.41" cy="35.42" r="0.62" fill="#2c3850"/><circle cx="111.7" cy="33.48" r="0.62" fill="#2c3850"/><circle cx="103.31" cy="40.25" r="0.55" fill="#b09838"/><circle cx="97.73" cy="44.59" r="0.62" fill="#2c3850"/><circle cx="100.19" cy="38.35" r="0.62" fill="#2c3850"/><circle cx="98.68" cy="37.59" r="0.62" fill="#2c3850"/><circle cx="149.7" cy="79.27" r="0.55" fill="#b09838"/><circle cx="144.19" cy="79.76" r="0.62" fill="#2c3850"/><circle cx="142.59" cy="79.26" r="0.62" fill="#2c3850"/><circle cx="147.29" cy="83.67" r="0.62" fill="#2c3850"/><circle cx="144.16" cy="74.64" r="0.62" fill="#2c3850"/><circle cx="143.86" cy="80.15" r="0.62" fill="#2c3850"/><circle cx="151.68" cy="80.97" r="0.62" fill="#2c3850"/><circle cx="145.13" cy="77.06" r="0.62" fill="#2c3850"/><circle cx="145.74" cy="76.91" r="0.62" fill="#2c3850"/><circle cx="144.75" cy="75.6" r="0.62" fill="#2c3850"/><circle cx="51.67" cy="98.57" r="0.55" fill="#b09838"/><circle cx="65.02" cy="90.73" r="0.55" fill="#b09838"/><circle cx="54.65" cy="97.05" r="0.62" fill="#2c3850"/><circle cx="57.82" cy="96.01" r="0.62" fill="#2c3850"/><circle cx="59.5" cy="100.76" r="0.55" fill="#b09838"/><circle cx="58.96" cy="106.81" r="0.62" fill="#2c3850"/><circle cx="55.63" cy="95.9" r="0.55" fill="#b09838"/><circle cx="54.7" cy="96.78" r="0.62" fill="#2c3850"/><circle cx="66.32" cy="90.25" r="0.55" fill="#b09838"/><circle cx="55.1" cy="98.58" r="0.62" fill="#2c3850"/><circle cx="89.41" cy="68.15" r="0.55" fill="#b09838"/><circle cx="88.82" cy="75.56" r="0.55" fill="#b09838"/><circle cx="85.64" cy="65.47" r="0.62" fill="#2c3850"/><circle cx="91.48" cy="69.41" r="0.55" fill="#b09838"/><circle cx="82.75" cy="68.85" r="0.62" fill="#2c3850"/><circle cx="86.3" cy="66.31" r="0.62" fill="#2c3850"/><circle cx="93.1" cy="69.25" r="0.62" fill="#2c3850"/><circle cx="83.35" cy="76.96" r="0.62" fill="#2c3850"/><circle cx="88.77" cy="58.95" r="0.62" fill="#2c3850"/><circle cx="82.44" cy="70.02" r="0.55" fill="#b09838"/><circle cx="91.11" cy="70.51" r="0.62" fill="#2c3850"/><circle cx="81.11" cy="68.61" r="0.55" fill="#b09838"/><circle cx="112.81" cy="98.86" r="0.62" fill="#2c3850"/><circle cx="111.57" cy="98.09" r="0.62" fill="#2c3850"/><circle cx="106.9" cy="101.04" r="0.55" fill="#b09838"/><circle cx="116.91" cy="95.62" r="0.62" fill="#2c3850"/><circle cx="118.37" cy="97.62" r="0.55" fill="#b09838"/><circle cx="119.16" cy="99.24" r="0.62" fill="#2c3850"/><circle cx="110.87" cy="100.88" r="0.62" fill="#2c3850"/><circle cx="111.55" cy="99.79" r="0.62" fill="#2c3850"/><circle cx="107.73" cy="101.41" r="0.62" fill="#2c3850"/><circle cx="119.15" cy="99.88" r="0.55" fill="#b09838"/><circle cx="131.86" cy="89.03" r="0.62" fill="#2c3850"/><circle cx="133.09" cy="91.54" r="0.62" fill="#2c3850"/><circle cx="132.15" cy="92.86" r="0.62" fill="#2c3850"/><circle cx="128.98" cy="87.78" r="0.62" fill="#2c3850"/><circle cx="128.14" cy="94.07" r="0.62" fill="#2c3850"/><circle cx="130.04" cy="94.23" r="0.62" fill="#2c3850"/><circle cx="132.83" cy="87.92" r="0.62" fill="#2c3850"/><circle cx="133.32" cy="94.83" r="0.62" fill="#2c3850"/><circle cx="131.34" cy="89.69" r="0.62" fill="#2c3850"/><circle cx="131.32" cy="92.11" r="0.62" fill="#2c3850"/><circle cx="131.51" cy="94.37" r="0.62" fill="#2c3850"/><circle cx="132.89" cy="92.02" r="0.55" fill="#b09838"/><circle cx="128.67" cy="91.79" r="0.55" fill="#b09838"/><circle cx="135.4" cy="88.6" r="0.62" fill="#2c3850"/><circle cx="129.3" cy="91.59" r="0.62" fill="#2c3850"/><circle cx="129.1" cy="89.5" r="0.62" fill="#2c3850"/><circle cx="131.22" cy="93.24" r="0.55" fill="#b09838"/><circle cx="134.77" cy="93.91" r="0.62" fill="#2c3850"/></g></defs><rect width="410" height="550" fill="#fff"/><text x="16.1" y="1.7" class="ax" style="fill:#d4d4d4" text-anchor="middle">7°30'0"W</text>
<text x="53.9" y="1.7" class="ax" style="fill:#d4d4d4" text-anchor="middle">7°0'0"W</text>
<text x="91.6" y="1.7" class="ax" style="fill:#d4d4d4" text-anchor="middle">6°30'0"W</text>
<text x="129.3" y="1.7" class="ax" style="fill:#d4d4d4" text-anchor="middle">6°0'0"W</text>
<text x="167.1" y="1.7" class="ax" style="fill:#d4d4d4" text-anchor="middle">5°30'0"W</text>
<text x="218.1" y="1.7" class="ax" style="fill:#d4d4d4" text-anchor="middle">7°30'0"W</text>
<text x="255.9" y="1.7" class="ax" style="fill:#d4d4d4" text-anchor="middle">7°0'0"W</text>
<text x="293.6" y="1.7" class="ax" style="fill:#d4d4d4" text-anchor="middle">6°30'0"W</text>
<text x="331.3" y="1.7" class="ax" style="fill:#d4d4d4" text-anchor="middle">6°0'0"W</text>
<text x="369.1" y="1.7" class="ax" style="fill:#d4d4d4" text-anchor="middle">5°30'0"W</text>
<g transform="translate(11,11.3)">
<g clip-path="url(#clipm)"><g filter="url(#flm)">
<rect x="-10" y="-10" width="210" height="190" fill="#3d3d3d"/>
<polygon points="-6,98.7 29,72.7 49,58.7 89,18.7 129,-6.3 135,6.7 117,24.7 101,40.7 84,60.7 69,70.7 51,72.7 39,84.7 19,106.7 -1,108.7" fill="#707070"/>
<polygon points="49,43.7 89,13.7 115,-3.3 117,8.7 111,20.7 101,30.7 87,44.7 75,54.7 65,60.7 55,60.7 47,54.7" fill="#dbdbdb"/>
<polygon points="107,2.7 129,-7.3 135,4.7 121,16.7 109,22.7" fill="#8c8c8c"/>
<polygon points="-3,96.7 14,86.7 29,78.7 37,88.7 35,100.7 24,106.7 9,106.7 -1,104.7" fill="#b8b8b8"/>
<polygon points="127,2.7 183,52.7 175,58.7 121,10.7" fill="#6b6b6b"/>
<ellipse cx="57" cy="153.7" rx="14" ry="8" fill="#666666" transform="rotate(-40 57 153.7)"/>
<ellipse cx="67" cy="148.7" rx="8" ry="4" fill="#616161" transform="rotate(-40 67 148.7)"/>
<polygon points="24,96.7 44,80.7 64,68.7 79,60.7 69,78.7 49,90.7 34,100.7" fill="#666666"/>
<ellipse cx="87" cy="65.7" rx="3.5" ry="1.5" fill="#d9d9d9" transform="rotate(-30 87 65.7)"/>
<ellipse cx="110" cy="52.7" rx="2.5" ry="1.3" fill="#d9d9d9" transform="rotate(-30 110 52.7)"/>
<ellipse cx="164" cy="81.7" rx="3" ry="1.5" fill="#d9d9d9" transform="rotate(-30 164 81.7)"/>
<ellipse cx="55" cy="91.7" rx="2.5" ry="1.5" fill="#d9d9d9" transform="rotate(-30 55 91.7)"/>
<ellipse cx="67" cy="121.7" rx="2.5" ry="1.5" fill="#d9d9d9" transform="rotate(-30 67 121.7)"/>
<ellipse cx="139" cy="60.7" rx="2" ry="1.2" fill="#d9d9d9" transform="rotate(-30 139 60.7)"/>
<ellipse cx="124" cy="48.7" rx="2" ry="1.2" fill="#d9d9d9" transform="rotate(-30 124 48.7)"/>
<ellipse cx="39" cy="120.7" rx="2" ry="1.2" fill="#d9d9d9" transform="rotate(-30 39 120.7)"/>
<ellipse cx="128" cy="18.7" rx="2" ry="1.2" fill="#d9d9d9" transform="rotate(-30 128 18.7)"/>
<ellipse cx="119" cy="63.7" rx="10" ry="2.5" fill="#545454" transform="rotate(-30 119 63.7)"/>
<ellipse cx="139" cy="83.7" rx="12" ry="2.5" fill="#545454" transform="rotate(-30 139 83.7)"/>
<ellipse cx="99" cy="88.7" rx="10" ry="2" fill="#545454" transform="rotate(-30 99 88.7)"/>
<ellipse cx="79" cy="108.7" rx="12" ry="2.5" fill="#545454" transform="rotate(-30 79 108.7)"/>
<ellipse cx="149" cy="48.7" rx="10" ry="2" fill="#545454" transform="rotate(-30 149 48.7)"/>
<ellipse cx="59" cy="128.7" rx="10" ry="2" fill="#545454" transform="rotate(-30 59 128.7)"/>
<ellipse cx="109" cy="108.7" rx="8" ry="2" fill="#545454" transform="rotate(-30 109 108.7)"/>
<ellipse cx="154" cy="68.7" rx="8" ry="2" fill="#545454" transform="rotate(-30 154 68.7)"/>
<ellipse cx="129" cy="98.7" rx="8" ry="2" fill="#545454" transform="rotate(-30 129 98.7)"/>
<ellipse cx="164" cy="48.7" rx="8" ry="2" fill="#545454" transform="rotate(-30 164 48.7)"/>
</g>
<use href="#dots"/>
</g>
<polygon points="125.8,2.9 181.4,53.1 52.7,160.7 2.4,97.7" fill="none" stroke="#6a6a40" stroke-width="0.4"/>
</g>
<rect x="11" y="11.3" width="186" height="164.8" fill="none" stroke="#8a8a8a" stroke-width="1.1"/>
<line x1="19.1" y1="10.8" x2="19.1" y2="12.5" stroke="#666" stroke-width="0.6"/>
<line x1="16.1" y1="174.9" x2="16.1" y2="176.6" stroke="#666" stroke-width="0.6"/>
<text x="19.1" y="8.1" class="ax" text-anchor="middle">7°30'0"W</text>
<text x="16.1" y="182.2" class="ax" text-anchor="middle">7°30'0"W</text>
<line x1="56.4" y1="10.8" x2="56.4" y2="12.5" stroke="#666" stroke-width="0.6"/>
<line x1="53.9" y1="174.9" x2="53.9" y2="176.6" stroke="#666" stroke-width="0.6"/>
<text x="56.4" y="8.1" class="ax" text-anchor="middle">7°0'0"W</text>
<text x="53.9" y="182.2" class="ax" text-anchor="middle">7°0'0"W</text>
<line x1="93.9" y1="10.8" x2="93.9" y2="12.5" stroke="#666" stroke-width="0.6"/>
<line x1="91.6" y1="174.9" x2="91.6" y2="176.6" stroke="#666" stroke-width="0.6"/>
<text x="93.9" y="8.1" class="ax" text-anchor="middle">6°30'0"W</text>
<text x="91.6" y="182.2" class="ax" text-anchor="middle">6°30'0"W</text>
<line x1="130.1" y1="10.8" x2="130.1" y2="12.5" stroke="#666" stroke-width="0.6"/>
<line x1="129.3" y1="174.9" x2="129.3" y2="176.6" stroke="#666" stroke-width="0.6"/>
<text x="130.1" y="8.1" class="ax" text-anchor="middle">6°0'0"W</text>
<text x="129.3" y="182.2" class="ax" text-anchor="middle">6°0'0"W</text>
<line x1="167.6" y1="10.8" x2="167.6" y2="12.5" stroke="#666" stroke-width="0.6"/>
<line x1="167.1" y1="174.9" x2="167.1" y2="176.6" stroke="#666" stroke-width="0.6"/>
<text x="167.6" y="8.1" class="ax" text-anchor="middle">5°30'0"W</text>
<text x="167.1" y="182.2" class="ax" text-anchor="middle">5°30'0"W</text>
<line x1="10.5" y1="46.5" x2="12.2" y2="46.5" stroke="#666" stroke-width="0.6"/>
<line x1="195.8" y1="46.5" x2="197.5" y2="46.5" stroke="#666" stroke-width="0.6"/>
<text class="ax" text-anchor="middle" transform="translate(8,47.1) rotate(-90)">32°30'0"N</text>
<text class="ax" text-anchor="middle" transform="translate(200.6,47.1) rotate(90)">32°30'0"N</text>
<line x1="10.5" y1="89.8" x2="12.2" y2="89.8" stroke="#666" stroke-width="0.6"/>
<line x1="195.8" y1="89.8" x2="197.5" y2="89.8" stroke="#666" stroke-width="0.6"/>
<text class="ax" text-anchor="middle" transform="translate(8,90.4) rotate(-90)">32°0'0"N</text>
<text class="ax" text-anchor="middle" transform="translate(200.6,90.4) rotate(90)">32°0'0"N</text>
<line x1="10.5" y1="134.3" x2="12.2" y2="134.3" stroke="#666" stroke-width="0.6"/>
<line x1="195.8" y1="134.3" x2="197.5" y2="134.3" stroke="#666" stroke-width="0.6"/>
<text class="ax" text-anchor="middle" transform="translate(8,134.9) rotate(-90)">31°30'0"N</text>
<text class="ax" text-anchor="middle" transform="translate(200.6,134.9) rotate(90)">31°30'0"N</text>
<rect x="14.9" y="18.9" width="80" height="2.3" fill="#000"/>
<rect x="20.1" y="19.25" width="4.6" height="1.6" fill="#fafafa"/>
<rect x="30.1" y="19.25" width="4.6" height="1.6" fill="#fafafa"/>
<rect x="55.1" y="19.25" width="19.6" height="1.6" fill="#fafafa"/>
<text x="14.9" y="16.5" class="sb" text-anchor="middle">0</text>
<text x="24.9" y="16.5" class="sb" text-anchor="middle">12.5</text>
<text x="34.9" y="16.5" class="sb" text-anchor="middle">25</text>
<text x="54.9" y="16.5" class="sb" text-anchor="middle">50</text>
<text x="74.9" y="16.5" class="sb" text-anchor="middle">75</text>
<text x="94.9" y="16.5" class="sb" text-anchor="middle">100</text>
<text x="95.8" y="21.2" class="sb">Kilometers</text>
<text x="183.6" y="21.8" class="nn" text-anchor="middle">N</text>
<circle cx="183.6" cy="24.5" r="1.05" fill="#f4f4f4" stroke="#6a6a6a" stroke-width="0.7"/>
<path d="M179.1 27.6 Q183.6 26.5 188.1 27.6 L187.6 31.3 Q186.2 34.3 183.6 34.7 Q181 34.3 179.6 31.3 Z" fill="#767676"/>
<path d="M180.6 28.2 L183.6 31.2 L186.6 28.2" fill="none" stroke="#e6e6e6" stroke-width="0.9"/>
<path d="M180.4 29.9 L183.6 32.7 L186.8 29.9" fill="none" stroke="#555" stroke-width="0.6"/>
<rect x="182.3" y="34.2" width="2.6" height="4.4" fill="#767676"/>
<rect x="183.1" y="36.3" width="1.0" height="1.4" fill="#d0d0d0"/>
<text x="139.6" y="118.9" class="lg">Legend</text>
<circle cx="142.7" cy="125.5" r="0.7" fill="#3d4a3a"/>
<text x="147" y="126.9" class="li">Spring Training</text>
<circle cx="142.7" cy="132.5" r="0.7" fill="#c8c060"/>
<text x="147" y="133.9" class="li">Spring Testing</text>
<text x="139.6" y="142.4" class="lt">MRVBF</text>
<rect x="139.3" y="146.5" width="6.6" height="11.6" fill="url(#cbm)"/>
<text x="147" y="148.3" class="li">High : 5.87958</text>
<text x="147" y="159.9" class="li">Low : 0</text>
<text x="15.8" y="167.9" class="pl">(m)</text>
<g transform="translate(213,11.3)">
<g clip-path="url(#clipn)"><g filter="url(#fln)">
<rect x="-10" y="-10" width="210" height="190" fill="#808080"/>
<ellipse cx="140" cy="30" rx="30" ry="15" fill="#707070" transform="rotate(-37.5 140 30)"/>
<ellipse cx="30" cy="95" rx="20" ry="15" fill="#757575" transform="rotate(-37.5 30 95)"/>
<ellipse cx="90" cy="80" rx="40" ry="12" fill="#878787" transform="rotate(-37.5 90 80)"/>
</g>
<use href="#dots"/>
</g>
<polygon points="125.8,2.9 181.4,53.1 52.7,160.7 2.4,97.7" fill="none" stroke="#6a6a40" stroke-width="0.4"/>
</g>
<rect x="213" y="11.3" width="186" height="164.8" fill="none" stroke="#8a8a8a" stroke-width="1.1"/>
<line x1="221.1" y1="10.8" x2="221.1" y2="12.5" stroke="#666" stroke-width="0.6"/>
<line x1="218.1" y1="174.9" x2="218.1" y2="176.6" stroke="#666" stroke-width="0.6"/>
<text x="221.1" y="8.1" class="ax" text-anchor="middle">7°30'0"W</text>
<text x="218.1" y="182.2" class="ax" text-anchor="middle">7°30'0"W</text>
<line x1="258.4" y1="10.8" x2="258.4" y2="12.5" stroke="#666" stroke-width="0.6"/>
<line x1="255.9" y1="174.9" x2="255.9" y2="176.6" stroke="#666" stroke-width="0.6"/>
<text x="258.4" y="8.1" class="ax" text-anchor="middle">7°0'0"W</text>
<text x="255.9" y="182.2" class="ax" text-anchor="middle">7°0'0"W</text>
<line x1="295.9" y1="10.8" x2="295.9" y2="12.5" stroke="#666" stroke-width="0.6"/>
<line x1="293.6" y1="174.9" x2="293.6" y2="176.6" stroke="#666" stroke-width="0.6"/>
<text x="295.9" y="8.1" class="ax" text-anchor="middle">6°30'0"W</text>
<text x="293.6" y="182.2" class="ax" text-anchor="middle">6°30'0"W</text>
<line x1="332.1" y1="10.8" x2="332.1" y2="12.5" stroke="#666" stroke-width="0.6"/>
<line x1="331.3" y1="174.9" x2="331.3" y2="176.6" stroke="#666" stroke-width="0.6"/>
<text x="332.1" y="8.1" class="ax" text-anchor="middle">6°0'0"W</text>
<text x="331.3" y="182.2" class="ax" text-anchor="middle">6°0'0"W</text>
<line x1="369.6" y1="10.8" x2="369.6" y2="12.5" stroke="#666" stroke-width="0.6"/>
<line x1="369.1" y1="174.9" x2="369.1" y2="176.6" stroke="#666" stroke-width="0.6"/>
<text x="369.6" y="8.1" class="ax" text-anchor="middle">5°30'0"W</text>
<text x="369.1" y="182.2" class="ax" text-anchor="middle">5°30'0"W</text>
<line x1="212.5" y1="46.5" x2="214.2" y2="46.5" stroke="#666" stroke-width="0.6"/>
<line x1="397.8" y1="46.5" x2="399.5" y2="46.5" stroke="#666" stroke-width="0.6"/>
<text class="ax" text-anchor="middle" transform="translate(210,47.1) rotate(-90)">32°30'0"N</text>
<text class="ax" text-anchor="middle" transform="translate(402.6,47.1) rotate(90)">32°30'0"N</text>
<line x1="212.5" y1="89.8" x2="214.2" y2="89.8" stroke="#666" stroke-width="0.6"/>
<line x1="397.8" y1="89.8" x2="399.5" y2="89.8" stroke="#666" stroke-width="0.6"/>
<text class="ax" text-anchor="middle" transform="translate(210,90.4) rotate(-90)">32°0'0"N</text>
<text class="ax" text-anchor="middle" transform="translate(402.6,90.4) rotate(90)">32°0'0"N</text>
<line x1="212.5" y1="134.3" x2="214.2" y2="134.3" stroke="#666" stroke-width="0.6"/>
<line x1="397.8" y1="134.3" x2="399.5" y2="134.3" stroke="#666" stroke-width="0.6"/>
<text class="ax" text-anchor="middle" transform="translate(210,134.9) rotate(-90)">31°30'0"N</text>
<text class="ax" text-anchor="middle" transform="translate(402.6,134.9) rotate(90)">31°30'0"N</text>
<rect x="216.9" y="18.9" width="80" height="2.3" fill="#000"/>
<rect x="222.1" y="19.25" width="4.6" height="1.6" fill="#fafafa"/>
<rect x="232.1" y="19.25" width="4.6" height="1.6" fill="#fafafa"/>
<rect x="257.1" y="19.25" width="19.6" height="1.6" fill="#fafafa"/>
<text x="216.9" y="16.5" class="sb" text-anchor="middle">0</text>
<text x="226.9" y="16.5" class="sb" text-anchor="middle">12.5</text>
<text x="236.9" y="16.5" class="sb" text-anchor="middle">25</text>
<text x="256.9" y="16.5" class="sb" text-anchor="middle">50</text>
<text x="276.9" y="16.5" class="sb" text-anchor="middle">75</text>
<text x="296.9" y="16.5" class="sb" text-anchor="middle">100</text>
<text x="297.8" y="21.2" class="sb">Kilometers</text>
<text x="385.6" y="21.8" class="nn" text-anchor="middle">N</text>
<circle cx="385.6" cy="24.5" r="1.05" fill="#f4f4f4" stroke="#6a6a6a" stroke-width="0.7"/>
<path d="M381.1 27.6 Q385.6 26.5 390.1 27.6 L389.6 31.3 Q388.2 34.3 385.6 34.7 Q383 34.3 381.6 31.3 Z" fill="#767676"/>
<path d="M382.6 28.2 L385.6 31.2 L388.6 28.2" fill="none" stroke="#e6e6e6" stroke-width="0.9"/>
<path d="M382.4 29.9 L385.6 32.7 L388.8 29.9" fill="none" stroke="#555" stroke-width="0.6"/>
<rect x="384.3" y="34.2" width="2.6" height="4.4" fill="#767676"/>
<rect x="385.1" y="36.3" width="1.0" height="1.4" fill="#d0d0d0"/>
<text x="341.6" y="118.9" class="lg">Legend</text>
<circle cx="344.7" cy="125.5" r="0.7" fill="#3d4a3a"/>
<text x="349" y="126.9" class="li">Spring Training</text>
<circle cx="344.7" cy="132.5" r="0.7" fill="#c8c060"/>
<text x="349" y="133.9" class="li">Spring Testing</text>
<text x="341.6" y="142.4" class="lt">Distance to Rivers (m)</text>
<rect x="341.3" y="146.5" width="6.6" height="11.6" fill="url(#cbn)"/>
<text x="349" y="148.3" class="li">High : 5077.45</text>
<text x="349" y="159.9" class="li">Low : 0</text>
<text x="217.8" y="167.9" class="pl">(n)</text>
<g transform="translate(11,192.6)">
<g clip-path="url(#clipo)"><g filter="url(#flo)">
<rect x="-10" y="-10" width="210" height="190" fill="#000000"/>
<polygon points="0,100 125,0 132,4 8,104" fill="#000000"/>
<polygon points="-6,94 122,-6 126,2.9 2.4,97.7" fill="#4c4c4c"/>
<polygon points="125.8,2.9 181.4,53.1 52.7,160.7 2.4,97.7" fill="#787878"/>
<polygon points="55,58 80,44 105,24 118,18 126,26 118,40 105,52 90,64 70,68 56,68" fill="#7d7d7d"/>
<polygon points="63,54 75,48 88,48 92,56 80,61 65,61" fill="#d6d6d6"/>
<polygon points="92,46 100,36 108,28 116,26 118,34 110,44 100,52 94,52" fill="#d6d6d6"/>
<ellipse cx="54" cy="102" rx="25" ry="5" fill="#8f8f8f" transform="rotate(-37.5 54 102)"/>
<ellipse cx="113" cy="84" rx="18" ry="6" fill="#8f8f8f" transform="rotate(-37.5 113 84)"/>
<ellipse cx="29.5" cy="93" rx="7" ry="8" fill="#e6e6e6"/>
<ellipse cx="10.2" cy="98.5" rx="3" ry="3" fill="#e6e6e6"/>
<ellipse cx="18" cy="100" rx="6" ry="5" fill="#999999"/>
<polygon points="30,96 45,94 63,97 63,110 45,114 30,110" fill="#8a8a8a"/>
<ellipse cx="75" cy="92" rx="8" ry="5" fill="#999999" transform="rotate(-37.5 75 92)"/>
<ellipse cx="124" cy="79" rx="12" ry="10" fill="#999999"/>
<ellipse cx="145" cy="50" rx="8" ry="6" fill="#a8a8a8" transform="rotate(-37.5 145 50)"/>
<ellipse cx="110" cy="98" rx="8" ry="5" fill="#8f8f8f" transform="rotate(-37.5 110 98)"/>
<ellipse cx="70" cy="100" rx="10" ry="5" fill="#8f8f8f" transform="rotate(-37.5 70 100)"/>
<ellipse cx="150" cy="70" rx="8" ry="4" fill="#8f8f8f" transform="rotate(-37.5 150 70)"/>
<ellipse cx="54" cy="77" rx="9" ry="8" fill="#707070"/>
<ellipse cx="100" cy="80" rx="10" ry="6" fill="#757575" transform="rotate(-37.5 100 80)"/>
<ellipse cx="55" cy="128" rx="25" ry="10" fill="#6b6b6b" transform="rotate(-37.5 55 128)"/>
<polygon points="119.76,97.6 175.84,48.08 181.4,53.1 52.7,160.7 49.18,156.29" fill="#575757"/>
<ellipse cx="181" cy="53" rx="12" ry="9" fill="#333333" transform="rotate(-37.5 181 53)"/>
<ellipse cx="126" cy="3" rx="10" ry="6" fill="#333333" transform="rotate(-37.5 126 3)"/>
<ellipse cx="53" cy="160" rx="10" ry="8" fill="#404040" transform="rotate(-37.5 53 160)"/>
<ellipse cx="84" cy="82.5" rx="4.5" ry="3.5" fill="#474747"/>
<ellipse cx="130" cy="60" rx="4" ry="3" fill="#595959"/>
</g>
<use href="#dots"/>
</g>
<polygon points="125.8,2.9 181.4,53.1 52.7,160.7 2.4,97.7" fill="none" stroke="#6a6a40" stroke-width="0.4"/>
</g>
<rect x="11" y="192.6" width="186" height="164.8" fill="none" stroke="#8a8a8a" stroke-width="1.1"/>
<line x1="19.1" y1="192.1" x2="19.1" y2="193.8" stroke="#666" stroke-width="0.6"/>
<line x1="16.1" y1="356.2" x2="16.1" y2="357.9" stroke="#666" stroke-width="0.6"/>
<text x="19.1" y="189.4" class="ax" text-anchor="middle">7°30'0"W</text>
<text x="16.1" y="363.5" class="ax" text-anchor="middle">7°30'0"W</text>
<line x1="56.4" y1="192.1" x2="56.4" y2="193.8" stroke="#666" stroke-width="0.6"/>
<line x1="53.9" y1="356.2" x2="53.9" y2="357.9" stroke="#666" stroke-width="0.6"/>
<text x="56.4" y="189.4" class="ax" text-anchor="middle">7°0'0"W</text>
<text x="53.9" y="363.5" class="ax" text-anchor="middle">7°0'0"W</text>
<line x1="93.9" y1="192.1" x2="93.9" y2="193.8" stroke="#666" stroke-width="0.6"/>
<line x1="91.6" y1="356.2" x2="91.6" y2="357.9" stroke="#666" stroke-width="0.6"/>
<text x="93.9" y="189.4" class="ax" text-anchor="middle">6°30'0"W</text>
<text x="91.6" y="363.5" class="ax" text-anchor="middle">6°30'0"W</text>
<line x1="130.1" y1="192.1" x2="130.1" y2="193.8" stroke="#666" stroke-width="0.6"/>
<line x1="129.3" y1="356.2" x2="129.3" y2="357.9" stroke="#666" stroke-width="0.6"/>
<text x="130.1" y="189.4" class="ax" text-anchor="middle">6°0'0"W</text>
<text x="129.3" y="363.5" class="ax" text-anchor="middle">6°0'0"W</text>
<line x1="167.6" y1="192.1" x2="167.6" y2="193.8" stroke="#666" stroke-width="0.6"/>
<line x1="167.1" y1="356.2" x2="167.1" y2="357.9" stroke="#666" stroke-width="0.6"/>
<text x="167.6" y="189.4" class="ax" text-anchor="middle">5°30'0"W</text>
<text x="167.1" y="363.5" class="ax" text-anchor="middle">5°30'0"W</text>
<line x1="10.5" y1="227.8" x2="12.2" y2="227.8" stroke="#666" stroke-width="0.6"/>
<line x1="195.8" y1="227.8" x2="197.5" y2="227.8" stroke="#666" stroke-width="0.6"/>
<text class="ax" text-anchor="middle" transform="translate(8,228.4) rotate(-90)">32°30'0"N</text>
<text class="ax" text-anchor="middle" transform="translate(200.6,228.4) rotate(90)">32°30'0"N</text>
<line x1="10.5" y1="271.1" x2="12.2" y2="271.1" stroke="#666" stroke-width="0.6"/>
<line x1="195.8" y1="271.1" x2="197.5" y2="271.1" stroke="#666" stroke-width="0.6"/>
<text class="ax" text-anchor="middle" transform="translate(8,271.7) rotate(-90)">32°0'0"N</text>
<text class="ax" text-anchor="middle" transform="translate(200.6,271.7) rotate(90)">32°0'0"N</text>
<line x1="10.5" y1="315.6" x2="12.2" y2="315.6" stroke="#666" stroke-width="0.6"/>
<line x1="195.8" y1="315.6" x2="197.5" y2="315.6" stroke="#666" stroke-width="0.6"/>
<text class="ax" text-anchor="middle" transform="translate(8,316.2) rotate(-90)">31°30'0"N</text>
<text class="ax" text-anchor="middle" transform="translate(200.6,316.2) rotate(90)">31°30'0"N</text>
<rect x="14.9" y="200.2" width="80" height="2.3" fill="#000"/>
<rect x="20.1" y="200.55" width="4.6" height="1.6" fill="#fafafa"/>
<rect x="30.1" y="200.55" width="4.6" height="1.6" fill="#fafafa"/>
<rect x="55.1" y="200.55" width="19.6" height="1.6" fill="#fafafa"/>
<text x="14.9" y="197.8" class="sb" text-anchor="middle">0</text>
<text x="24.9" y="197.8" class="sb" text-anchor="middle">12.5</text>
<text x="34.9" y="197.8" class="sb" text-anchor="middle">25</text>
<text x="54.9" y="197.8" class="sb" text-anchor="middle">50</text>
<text x="74.9" y="197.8" class="sb" text-anchor="middle">75</text>
<text x="94.9" y="197.8" class="sb" text-anchor="middle">100</text>
<text x="95.8" y="202.5" class="sb">Kilometers</text>
<text x="183.6" y="203.1" class="nn" text-anchor="middle">N</text>
<circle cx="183.6" cy="205.8" r="1.05" fill="#f4f4f4" stroke="#6a6a6a" stroke-width="0.7"/>
<path d="M179.1 208.9 Q183.6 207.8 188.1 208.9 L187.6 212.6 Q186.2 215.6 183.6 216 Q181 215.6 179.6 212.6 Z" fill="#767676"/>
<path d="M180.6 209.5 L183.6 212.5 L186.6 209.5" fill="none" stroke="#e6e6e6" stroke-width="0.9"/>
<path d="M180.4 211.2 L183.6 214 L186.8 211.2" fill="none" stroke="#555" stroke-width="0.6"/>
<rect x="182.3" y="215.5" width="2.6" height="4.4" fill="#767676"/>
<rect x="183.1" y="217.6" width="1.0" height="1.4" fill="#d0d0d0"/>
<text x="139.6" y="300.2" class="lg">Legend</text>
<circle cx="142.7" cy="306.8" r="0.7" fill="#3d4a3a"/>
<text x="147" y="308.2" class="li">Spring Training</text>
<circle cx="142.7" cy="313.8" r="0.7" fill="#c8c060"/>
<text x="147" y="315.2" class="li">Spring Testing</text>
<text x="139.6" y="323.7" class="lt">Rivers Density</text>
<rect x="139.3" y="327.8" width="6.6" height="11.6" fill="url(#cbo)"/>
<text x="147" y="329.6" class="li">High : 0.753673</text>
<text x="147" y="341.2" class="li">Low : 0.0374732</text>
<text x="15.8" y="349.2" class="pl">(o)</text>
<g transform="translate(213,192.6)">
<g clip-path="url(#clipp)"><g filter="url(#flp)">
<rect x="-10" y="-10" width="210" height="190" fill="#000000"/>
<polygon points="19,97 31.7,80 41.2,71 53.9,68 69.8,64 82.4,56 95.1,45 104.6,35.3 114.1,25.8 123.7,16.2 130,5 200,50 200,200 0,200 0,125 10,110" fill="#8f8f8f"/>
<polygon points="0,95 19,97 30,108 20,122 0,118" fill="#616161"/>
<ellipse cx="100" cy="100" rx="40" ry="8" fill="#9c9c9c" transform="rotate(-37.5 100 100)"/>
<ellipse cx="130" cy="78" rx="25" ry="7" fill="#9e9e9e" transform="rotate(-37.5 130 78)"/>
<ellipse cx="155" cy="58" rx="18" ry="6" fill="#999999" transform="rotate(-37.5 155 58)"/>
<ellipse cx="70" cy="122" rx="25" ry="6" fill="#9c9c9c" transform="rotate(-37.5 70 122)"/>
<ellipse cx="100" cy="60" rx="8" ry="5" fill="#969696" transform="rotate(-37.5 100 60)"/>
</g>
<use href="#dots"/>
</g>
<polygon points="125.8,2.9 181.4,53.1 52.7,160.7 2.4,97.7" fill="none" stroke="#6a6a40" stroke-width="0.4"/>
</g>
<rect x="213" y="192.6" width="186" height="164.8" fill="none" stroke="#8a8a8a" stroke-width="1.1"/>
<line x1="221.1" y1="192.1" x2="221.1" y2="193.8" stroke="#666" stroke-width="0.6"/>
<line x1="218.1" y1="356.2" x2="218.1" y2="357.9" stroke="#666" stroke-width="0.6"/>
<text x="221.1" y="189.4" class="ax" text-anchor="middle">7°30'0"W</text>
<text x="218.1" y="363.5" class="ax" text-anchor="middle">7°30'0"W</text>
<line x1="258.4" y1="192.1" x2="258.4" y2="193.8" stroke="#666" stroke-width="0.6"/>
<line x1="255.9" y1="356.2" x2="255.9" y2="357.9" stroke="#666" stroke-width="0.6"/>
<text x="258.4" y="189.4" class="ax" text-anchor="middle">7°0'0"W</text>
<text x="255.9" y="363.5" class="ax" text-anchor="middle">7°0'0"W</text>
<line x1="295.9" y1="192.1" x2="295.9" y2="193.8" stroke="#666" stroke-width="0.6"/>
<line x1="293.6" y1="356.2" x2="293.6" y2="357.9" stroke="#666" stroke-width="0.6"/>
<text x="295.9" y="189.4" class="ax" text-anchor="middle">6°30'0"W</text>
<text x="293.6" y="363.5" class="ax" text-anchor="middle">6°30'0"W</text>
<line x1="332.1" y1="192.1" x2="332.1" y2="193.8" stroke="#666" stroke-width="0.6"/>
<line x1="331.3" y1="356.2" x2="331.3" y2="357.9" stroke="#666" stroke-width="0.6"/>
<text x="332.1" y="189.4" class="ax" text-anchor="middle">6°0'0"W</text>
<text x="331.3" y="363.5" class="ax" text-anchor="middle">6°0'0"W</text>
<line x1="369.6" y1="192.1" x2="369.6" y2="193.8" stroke="#666" stroke-width="0.6"/>
<line x1="369.1" y1="356.2" x2="369.1" y2="357.9" stroke="#666" stroke-width="0.6"/>
<text x="369.6" y="189.4" class="ax" text-anchor="middle">5°30'0"W</text>
<text x="369.1" y="363.5" class="ax" text-anchor="middle">5°30'0"W</text>
<line x1="212.5" y1="227.8" x2="214.2" y2="227.8" stroke="#666" stroke-width="0.6"/>
<line x1="397.8" y1="227.8" x2="399.5" y2="227.8" stroke="#666" stroke-width="0.6"/>
<text class="ax" text-anchor="middle" transform="translate(210,228.4) rotate(-90)">32°30'0"N</text>
<text class="ax" text-anchor="middle" transform="translate(402.6,228.4) rotate(90)">32°30'0"N</text>
<line x1="212.5" y1="271.1" x2="214.2" y2="271.1" stroke="#666" stroke-width="0.6"/>
<line x1="397.8" y1="271.1" x2="399.5" y2="271.1" stroke="#666" stroke-width="0.6"/>
<text class="ax" text-anchor="middle" transform="translate(210,271.7) rotate(-90)">32°0'0"N</text>
<text class="ax" text-anchor="middle" transform="translate(402.6,271.7) rotate(90)">32°0'0"N</text>
<line x1="212.5" y1="315.6" x2="214.2" y2="315.6" stroke="#666" stroke-width="0.6"/>
<line x1="397.8" y1="315.6" x2="399.5" y2="315.6" stroke="#666" stroke-width="0.6"/>
<text class="ax" text-anchor="middle" transform="translate(210,316.2) rotate(-90)">31°30'0"N</text>
<text class="ax" text-anchor="middle" transform="translate(402.6,316.2) rotate(90)">31°30'0"N</text>
<rect x="216.9" y="200.2" width="80" height="2.3" fill="#000"/>
<rect x="222.1" y="200.55" width="4.6" height="1.6" fill="#fafafa"/>
<rect x="232.1" y="200.55" width="4.6" height="1.6" fill="#fafafa"/>
<rect x="257.1" y="200.55" width="19.6" height="1.6" fill="#fafafa"/>
<text x="216.9" y="197.8" class="sb" text-anchor="middle">0</text>
<text x="226.9" y="197.8" class="sb" text-anchor="middle">12.5</text>
<text x="236.9" y="197.8" class="sb" text-anchor="middle">25</text>
<text x="256.9" y="197.8" class="sb" text-anchor="middle">50</text>
<text x="276.9" y="197.8" class="sb" text-anchor="middle">75</text>
<text x="296.9" y="197.8" class="sb" text-anchor="middle">100</text>
<text x="297.8" y="202.5" class="sb">Kilometers</text>
<text x="385.6" y="203.1" class="nn" text-anchor="middle">N</text>
<circle cx="385.6" cy="205.8" r="1.05" fill="#f4f4f4" stroke="#6a6a6a" stroke-width="0.7"/>
<path d="M381.1 208.9 Q385.6 207.8 390.1 208.9 L389.6 212.6 Q388.2 215.6 385.6 216 Q383 215.6 381.6 212.6 Z" fill="#767676"/>
<path d="M382.6 209.5 L385.6 212.5 L388.6 209.5" fill="none" stroke="#e6e6e6" stroke-width="0.9"/>
<path d="M382.4 211.2 L385.6 214 L388.8 211.2" fill="none" stroke="#555" stroke-width="0.6"/>
<rect x="384.3" y="215.5" width="2.6" height="4.4" fill="#767676"/>
<rect x="385.1" y="217.6" width="1.0" height="1.4" fill="#d0d0d0"/>
<text x="341.6" y="300.2" class="lg">Legend</text>
<circle cx="344.7" cy="306.8" r="0.7" fill="#3d4a3a"/>
<text x="349" y="308.2" class="li">Spring Training</text>
<circle cx="344.7" cy="313.8" r="0.7" fill="#c8c060"/>
<text x="349" y="315.2" class="li">Spring Testing</text>
<text x="341.6" y="323.7" class="lt">LS</text>
<rect x="341.3" y="327.8" width="6.6" height="11.6" fill="url(#cbp)"/>
<text x="349" y="329.6" class="li">High : 190.833</text>
<text x="349" y="341.2" class="li">Low : 0</text>
<text x="217.8" y="349.2" class="pl">(p)</text>
<g transform="translate(11,374.7)">
<g clip-path="url(#clipq)"><g filter="url(#flq)">
<rect x="-10" y="-10" width="210" height="190" fill="#cccccc"/>
<polygon points="-5,87.3 29,65.3 33,77.3 29,91.3 25,103.3 19,115.3 9,121.3 -5,101.3" fill="#ffffff"/>
<ellipse cx="39" cy="103.3" rx="10" ry="5" fill="#b2b2b2" transform="rotate(-30 39 103.3)"/>
<polygon points="49,70.3 68.5,52.1 78.3,49.2 88,46.3 97.8,38.5 105.6,28.7 109.5,20.9 114,10.3 89,5.3 49,45.3" fill="#ffffff"/>
<ellipse cx="87" cy="93.3" rx="7" ry="5" fill="#b2b2b2"/>
<ellipse cx="103" cy="62.3" rx="7" ry="5" fill="#a8a8a8"/>
<polyline points="40.7,72.1 49,65.3 68.5,59.3 88,56.3 99.7,54.8" fill="none" stroke="#999999" stroke-width="13" stroke-linecap="round" stroke-linejoin="round"/>
<polyline points="44.6,72.1 50.5,81.9 64,89.7" fill="none" stroke="#999999" stroke-width="13" stroke-linecap="round" stroke-linejoin="round"/>
<polyline points="72,66.3 74,76 77.8,83.8" fill="none" stroke="#999999" stroke-width="13" stroke-linecap="round" stroke-linejoin="round"/>
<polyline points="58.3,68.3 62.2,76 66,83.8" fill="none" stroke="#999999" stroke-width="13" stroke-linecap="round" stroke-linejoin="round"/>
<polyline points="27.8,101.9 38,99 48.3,96.8 57,103.3 67.3,109.2" fill="none" stroke="#999999" stroke-width="13" stroke-linecap="round" stroke-linejoin="round"/>
<polyline points="43.9,87.3 57,87.3 70.2,83.3" fill="none" stroke="#999999" stroke-width="13" stroke-linecap="round" stroke-linejoin="round"/>
<polyline points="41,75.5 52.7,74.1 67.3,71.2" fill="none" stroke="#999999" stroke-width="13" stroke-linecap="round" stroke-linejoin="round"/>
<polyline points="49,93.3 61,95.3 75,97.3 85,101.3" fill="none" stroke="#999999" stroke-width="13" stroke-linecap="round" stroke-linejoin="round"/>
<polyline points="75,87.3 85,83.3 93,75.3" fill="none" stroke="#999999" stroke-width="13" stroke-linecap="round" stroke-linejoin="round"/>
<polyline points="113.9,16.7 121.9,11.3 130,7.3" fill="none" stroke="#999999" stroke-width="13" stroke-linecap="round" stroke-linejoin="round"/>
<polyline points="113,26.3 127.3,20.7 138,18.1 146,19.4 156.8,27.4 167.5,38.2 181,51.6" fill="none" stroke="#999999" stroke-width="13" stroke-linecap="round" stroke-linejoin="round"/>
<polyline points="107.5,39.3 119.2,35.5 132.7,32.8 143.4,30.1 156.8,32.8 170.2,43.5 181,54.3" fill="none" stroke="#999999" stroke-width="13" stroke-linecap="round" stroke-linejoin="round"/>
<polyline points="101,51.3 113.9,46.3 127.3,43.5 140.7,43.5 151.4,46.2" fill="none" stroke="#999999" stroke-width="13" stroke-linecap="round" stroke-linejoin="round"/>
<polyline points="108.5,57 119.2,54.3 132.7,51.6 146,51.6 159.5,50.3 172.9,50.3 183.6,52.9" fill="none" stroke="#999999" stroke-width="13" stroke-linecap="round" stroke-linejoin="round"/>
<polyline points="119.2,65 132.7,61 146,59.6 159.5,58.3 175.6,57" fill="none" stroke="#999999" stroke-width="13" stroke-linecap="round" stroke-linejoin="round"/>
<polyline points="127.3,73.1 140.7,69 154.1,67.7 167.5,65" fill="none" stroke="#999999" stroke-width="13" stroke-linecap="round" stroke-linejoin="round"/>
<polyline points="105.8,65 111.2,73.1 116.6,81.1" fill="none" stroke="#999999" stroke-width="13" stroke-linecap="round" stroke-linejoin="round"/>
<polyline points="132.7,35.5 138,43.5 140.7,51.6" fill="none" stroke="#999999" stroke-width="13" stroke-linecap="round" stroke-linejoin="round"/>
<polyline points="124,11.3 139,9.3 149,13.3" fill="none" stroke="#999999" stroke-width="13" stroke-linecap="round" stroke-linejoin="round"/>
<polyline points="139,12.3 159,24.3 185,46.3" fill="none" stroke="#999999" stroke-width="13" stroke-linecap="round" stroke-linejoin="round"/>
<polyline points="86,69.3 97,63.3" fill="none" stroke="#999999" stroke-width="13" stroke-linecap="round" stroke-linejoin="round"/>
<polyline points="29.63,110.13 34.76,109.25 39.89,108.5 45.02,107.55 50.14,106.13 55.27,104.15 60.4,101.71 65.53,99.08 70.66,96.57 75.79,94.48 80.91,92.94" fill="none" stroke="#999999" stroke-width="13" stroke-linecap="round" stroke-linejoin="round"/>
<polyline points="80.91,92.94 125.51,78.27" fill="none" stroke="#999999" stroke-width="13" stroke-linecap="round" stroke-linejoin="round"/>
<polyline points="32.35,117.56 36.93,115.52 41.52,113.38 46.1,111.37 50.69,109.69 55.27,108.44 59.86,107.61 64.44,107.06 69.03,106.59 73.61,105.98 78.2,105.04" fill="none" stroke="#999999" stroke-width="13" stroke-linecap="round" stroke-linejoin="round"/>
<polyline points="36.12,123.4 41.79,121.82 47.46,119.57 53.12,116.7 58.79,113.54 64.46,110.54 70.12,108.1 75.79,106.36 81.46,105.15 87.12,104.08 92.79,102.71" fill="none" stroke="#999999" stroke-width="13" stroke-linecap="round" stroke-linejoin="round"/>
<polyline points="92.79,102.71 129.69,94.9" fill="none" stroke="#999999" stroke-width="13" stroke-linecap="round" stroke-linejoin="round"/>
<polyline points="35,130.46 40,128.69 44.99,126.58 49.99,124.39 54.98,122.4 59.98,120.84 64.98,119.79 69.97,119.17 74.97,118.77 79.96,118.3 84.96,117.49" fill="none" stroke="#999999" stroke-width="13" stroke-linecap="round" stroke-linejoin="round"/>
<polyline points="37.64,136.92 43.46,134.56 49.27,131.55 55.09,128.22 60.9,125.08 66.72,122.54 72.53,120.73 78.34,119.46 84.16,118.27 89.97,116.68 95.79,114.38" fill="none" stroke="#999999" stroke-width="13" stroke-linecap="round" stroke-linejoin="round"/>
<polyline points="95.79,114.38 120.9,107.68" fill="none" stroke="#999999" stroke-width="13" stroke-linecap="round" stroke-linejoin="round"/>
<polyline points="44.59,142.21 51.07,138.53 57.55,135.45 64.03,133.28 70.51,131.81 76.99,130.42 83.47,128.45 89.95,125.58 96.43,121.99 102.91,118.27 109.39,115.1" fill="none" stroke="#999999" stroke-width="13" stroke-linecap="round" stroke-linejoin="round"/>
<polyline points="109.39,115.1 152.84,96.69" fill="none" stroke="#999999" stroke-width="13" stroke-linecap="round" stroke-linejoin="round"/>
<polyline points="43.59,146.4 51.31,144.87 59.04,142.99 66.76,139.94 74.49,135.81 82.21,131.55 89.93,128.19 97.66,126.07 105.38,124.55 113.1,122.53 120.83,119.28" fill="none" stroke="#999999" stroke-width="13" stroke-linecap="round" stroke-linejoin="round"/>
<polyline points="120.83,119.28 140.19,107.82" fill="none" stroke="#999999" stroke-width="13" stroke-linecap="round" stroke-linejoin="round"/>
<polyline points="39.92,152.7 47.13,151.24 54.34,149.38 61.55,146.46 68.76,142.59 75.96,138.5 83.17,135.11 90.38,132.83 97.59,131.3 104.8,129.66 112.01,127.1" fill="none" stroke="#999999" stroke-width="13" stroke-linecap="round" stroke-linejoin="round"/>
<polyline points="112.01,127.1 148,111.68" fill="none" stroke="#999999" stroke-width="13" stroke-linecap="round" stroke-linejoin="round"/>
<polyline points="47.36,158.24 55.3,156.72 63.23,154.36 71.16,150.7 79.1,146.32 87.03,142.43 94.97,139.8 102.9,138.19 110.83,136.52 118.77,133.75 126.7,129.75" fill="none" stroke="#999999" stroke-width="13" stroke-linecap="round" stroke-linejoin="round"/>
<polyline points="126.7,129.75 162.77,117.21" fill="none" stroke="#999999" stroke-width="13" stroke-linecap="round" stroke-linejoin="round"/>
<polyline points="46.1,165.03 56.85,163.1 67.59,159.24 78.34,155.51 89.08,153.8 99.83,153.34 110.57,151.72 121.32,148.05 132.06,144.15 142.8,142.12 153.55,141.62" fill="none" stroke="#999999" stroke-width="13" stroke-linecap="round" stroke-linejoin="round"/>
<polyline points="48.2,172.02 52.8,170 57.4,167.85 61.99,165.8 66.59,164.06 71.19,162.74 75.79,161.84 80.38,161.26 84.98,160.79 89.58,160.2 94.17,159.3" fill="none" stroke="#999999" stroke-width="13" stroke-linecap="round" stroke-linejoin="round"/>
<polyline points="55.74,175.82 62.05,174.43 68.35,173.12 74.65,171.28 80.95,168.59 87.26,165.19 93.56,161.59 99.86,158.43 106.16,156.08 112.47,154.51 118.77,153.25" fill="none" stroke="#999999" stroke-width="13" stroke-linecap="round" stroke-linejoin="round"/>
<polyline points="118.77,153.25 148.48,141.18" fill="none" stroke="#999999" stroke-width="13" stroke-linecap="round" stroke-linejoin="round"/>
<polyline points="56.18,185.39 65.18,180.37 74.19,175.36 83.19,171.84 92.19,169.72 101.19,167.44 110.19,163.61 119.19,158.46 128.19,153.63 137.2,150.4 146.2,148.39" fill="none" stroke="#999999" stroke-width="13" stroke-linecap="round" stroke-linejoin="round"/>
<polyline points="146.2,148.39 175.74,132.98" fill="none" stroke="#999999" stroke-width="13" stroke-linecap="round" stroke-linejoin="round"/>
<polyline points="40.7,72.1 49,65.3 68.5,59.3 88,56.3 99.7,54.8" fill="none" stroke="#757575" stroke-width="9.5" stroke-linecap="round" stroke-linejoin="round"/>
<polyline points="44.6,72.1 50.5,81.9 64,89.7" fill="none" stroke="#757575" stroke-width="9.5" stroke-linecap="round" stroke-linejoin="round"/>
<polyline points="72,66.3 74,76 77.8,83.8" fill="none" stroke="#757575" stroke-width="9.5" stroke-linecap="round" stroke-linejoin="round"/>
<polyline points="58.3,68.3 62.2,76 66,83.8" fill="none" stroke="#757575" stroke-width="9.5" stroke-linecap="round" stroke-linejoin="round"/>
<polyline points="27.8,101.9 38,99 48.3,96.8 57,103.3 67.3,109.2" fill="none" stroke="#757575" stroke-width="9.5" stroke-linecap="round" stroke-linejoin="round"/>
<polyline points="43.9,87.3 57,87.3 70.2,83.3" fill="none" stroke="#757575" stroke-width="9.5" stroke-linecap="round" stroke-linejoin="round"/>
<polyline points="41,75.5 52.7,74.1 67.3,71.2" fill="none" stroke="#757575" stroke-width="9.5" stroke-linecap="round" stroke-linejoin="round"/>
<polyline points="49,93.3 61,95.3 75,97.3 85,101.3" fill="none" stroke="#757575" stroke-width="9.5" stroke-linecap="round" stroke-linejoin="round"/>
<polyline points="75,87.3 85,83.3 93,75.3" fill="none" stroke="#757575" stroke-width="9.5" stroke-linecap="round" stroke-linejoin="round"/>
<polyline points="113.9,16.7 121.9,11.3 130,7.3" fill="none" stroke="#757575" stroke-width="9.5" stroke-linecap="round" stroke-linejoin="round"/>
<polyline points="113,26.3 127.3,20.7 138,18.1 146,19.4 156.8,27.4 167.5,38.2 181,51.6" fill="none" stroke="#757575" stroke-width="9.5" stroke-linecap="round" stroke-linejoin="round"/>
<polyline points="107.5,39.3 119.2,35.5 132.7,32.8 143.4,30.1 156.8,32.8 170.2,43.5 181,54.3" fill="none" stroke="#757575" stroke-width="9.5" stroke-linecap="round" stroke-linejoin="round"/>
<polyline points="101,51.3 113.9,46.3 127.3,43.5 140.7,43.5 151.4,46.2" fill="none" stroke="#757575" stroke-width="9.5" stroke-linecap="round" stroke-linejoin="round"/>
<polyline points="108.5,57 119.2,54.3 132.7,51.6 146,51.6 159.5,50.3 172.9,50.3 183.6,52.9" fill="none" stroke="#757575" stroke-width="9.5" stroke-linecap="round" stroke-linejoin="round"/>
<polyline points="119.2,65 132.7,61 146,59.6 159.5,58.3 175.6,57" fill="none" stroke="#757575" stroke-width="9.5" stroke-linecap="round" stroke-linejoin="round"/>
<polyline points="127.3,73.1 140.7,69 154.1,67.7 167.5,65" fill="none" stroke="#757575" stroke-width="9.5" stroke-linecap="round" stroke-linejoin="round"/>
<polyline points="105.8,65 111.2,73.1 116.6,81.1" fill="none" stroke="#757575" stroke-width="9.5" stroke-linecap="round" stroke-linejoin="round"/>
<polyline points="132.7,35.5 138,43.5 140.7,51.6" fill="none" stroke="#757575" stroke-width="9.5" stroke-linecap="round" stroke-linejoin="round"/>
<polyline points="124,11.3 139,9.3 149,13.3" fill="none" stroke="#757575" stroke-width="9.5" stroke-linecap="round" stroke-linejoin="round"/>
<polyline points="139,12.3 159,24.3 185,46.3" fill="none" stroke="#757575" stroke-width="9.5" stroke-linecap="round" stroke-linejoin="round"/>
<polyline points="86,69.3 97,63.3" fill="none" stroke="#757575" stroke-width="9.5" stroke-linecap="round" stroke-linejoin="round"/>
<polyline points="29.63,110.13 34.76,109.25 39.89,108.5 45.02,107.55 50.14,106.13 55.27,104.15 60.4,101.71 65.53,99.08 70.66,96.57 75.79,94.48 80.91,92.94" fill="none" stroke="#757575" stroke-width="9.5" stroke-linecap="round" stroke-linejoin="round"/>
<polyline points="80.91,92.94 125.51,78.27" fill="none" stroke="#757575" stroke-width="9.5" stroke-linecap="round" stroke-linejoin="round"/>
<polyline points="32.35,117.56 36.93,115.52 41.52,113.38 46.1,111.37 50.69,109.69 55.27,108.44 59.86,107.61 64.44,107.06 69.03,106.59 73.61,105.98 78.2,105.04" fill="none" stroke="#757575" stroke-width="9.5" stroke-linecap="round" stroke-linejoin="round"/>
<polyline points="36.12,123.4 41.79,121.82 47.46,119.57 53.12,116.7 58.79,113.54 64.46,110.54 70.12,108.1 75.79,106.36 81.46,105.15 87.12,104.08 92.79,102.71" fill="none" stroke="#757575" stroke-width="9.5" stroke-linecap="round" stroke-linejoin="round"/>
<polyline points="92.79,102.71 129.69,94.9" fill="none" stroke="#757575" stroke-width="9.5" stroke-linecap="round" stroke-linejoin="round"/>
<polyline points="35,130.46 40,128.69 44.99,126.58 49.99,124.39 54.98,122.4 59.98,120.84 64.98,119.79 69.97,119.17 74.97,118.77 79.96,118.3 84.96,117.49" fill="none" stroke="#757575" stroke-width="9.5" stroke-linecap="round" stroke-linejoin="round"/>
<polyline points="37.64,136.92 43.46,134.56 49.27,131.55 55.09,128.22 60.9,125.08 66.72,122.54 72.53,120.73 78.34,119.46 84.16,118.27 89.97,116.68 95.79,114.38" fill="none" stroke="#757575" stroke-width="9.5" stroke-linecap="round" stroke-linejoin="round"/>
<polyline points="95.79,114.38 120.9,107.68" fill="none" stroke="#757575" stroke-width="9.5" stroke-linecap="round" stroke-linejoin="round"/>
<polyline points="44.59,142.21 51.07,138.53 57.55,135.45 64.03,133.28 70.51,131.81 76.99,130.42 83.47,128.45 89.95,125.58 96.43,121.99 102.91,118.27 109.39,115.1" fill="none" stroke="#757575" stroke-width="9.5" stroke-linecap="round" stroke-linejoin="round"/>
<polyline points="109.39,115.1 152.84,96.69" fill="none" stroke="#757575" stroke-width="9.5" stroke-linecap="round" stroke-linejoin="round"/>
<polyline points="43.59,146.4 51.31,144.87 59.04,142.99 66.76,139.94 74.49,135.81 82.21,131.55 89.93,128.19 97.66,126.07 105.38,124.55 113.1,122.53 120.83,119.28" fill="none" stroke="#757575" stroke-width="9.5" stroke-linecap="round" stroke-linejoin="round"/>
<polyline points="120.83,119.28 140.19,107.82" fill="none" stroke="#757575" stroke-width="9.5" stroke-linecap="round" stroke-linejoin="round"/>
<polyline points="39.92,152.7 47.13,151.24 54.34,149.38 61.55,146.46 68.76,142.59 75.96,138.5 83.17,135.11 90.38,132.83 97.59,131.3 104.8,129.66 112.01,127.1" fill="none" stroke="#757575" stroke-width="9.5" stroke-linecap="round" stroke-linejoin="round"/>
<polyline points="112.01,127.1 148,111.68" fill="none" stroke="#757575" stroke-width="9.5" stroke-linecap="round" stroke-linejoin="round"/>
<polyline points="47.36,158.24 55.3,156.72 63.23,154.36 71.16,150.7 79.1,146.32 87.03,142.43 94.97,139.8 102.9,138.19 110.83,136.52 118.77,133.75 126.7,129.75" fill="none" stroke="#757575" stroke-width="9.5" stroke-linecap="round" stroke-linejoin="round"/>
<polyline points="126.7,129.75 162.77,117.21" fill="none" stroke="#757575" stroke-width="9.5" stroke-linecap="round" stroke-linejoin="round"/>
<polyline points="46.1,165.03 56.85,163.1 67.59,159.24 78.34,155.51 89.08,153.8 99.83,153.34 110.57,151.72 121.32,148.05 132.06,144.15 142.8,142.12 153.55,141.62" fill="none" stroke="#757575" stroke-width="9.5" stroke-linecap="round" stroke-linejoin="round"/>
<polyline points="48.2,172.02 52.8,170 57.4,167.85 61.99,165.8 66.59,164.06 71.19,162.74 75.79,161.84 80.38,161.26 84.98,160.79 89.58,160.2 94.17,159.3" fill="none" stroke="#757575" stroke-width="9.5" stroke-linecap="round" stroke-linejoin="round"/>
<polyline points="55.74,175.82 62.05,174.43 68.35,173.12 74.65,171.28 80.95,168.59 87.26,165.19 93.56,161.59 99.86,158.43 106.16,156.08 112.47,154.51 118.77,153.25" fill="none" stroke="#757575" stroke-width="9.5" stroke-linecap="round" stroke-linejoin="round"/>
<polyline points="118.77,153.25 148.48,141.18" fill="none" stroke="#757575" stroke-width="9.5" stroke-linecap="round" stroke-linejoin="round"/>
<polyline points="56.18,185.39 65.18,180.37 74.19,175.36 83.19,171.84 92.19,169.72 101.19,167.44 110.19,163.61 119.19,158.46 128.19,153.63 137.2,150.4 146.2,148.39" fill="none" stroke="#757575" stroke-width="9.5" stroke-linecap="round" stroke-linejoin="round"/>
<polyline points="146.2,148.39 175.74,132.98" fill="none" stroke="#757575" stroke-width="9.5" stroke-linecap="round" stroke-linejoin="round"/>
<polyline points="40.7,72.1 49,65.3 68.5,59.3 88,56.3 99.7,54.8" fill="none" stroke="#4c4c4c" stroke-width="6.2" stroke-linecap="round" stroke-linejoin="round"/>
<polyline points="44.6,72.1 50.5,81.9 64,89.7" fill="none" stroke="#4c4c4c" stroke-width="6.2" stroke-linecap="round" stroke-linejoin="round"/>
<polyline points="72,66.3 74,76 77.8,83.8" fill="none" stroke="#4c4c4c" stroke-width="6.2" stroke-linecap="round" stroke-linejoin="round"/>
<polyline points="58.3,68.3 62.2,76 66,83.8" fill="none" stroke="#4c4c4c" stroke-width="6.2" stroke-linecap="round" stroke-linejoin="round"/>
<polyline points="27.8,101.9 38,99 48.3,96.8 57,103.3 67.3,109.2" fill="none" stroke="#4c4c4c" stroke-width="6.2" stroke-linecap="round" stroke-linejoin="round"/>
<polyline points="43.9,87.3 57,87.3 70.2,83.3" fill="none" stroke="#4c4c4c" stroke-width="6.2" stroke-linecap="round" stroke-linejoin="round"/>
<polyline points="41,75.5 52.7,74.1 67.3,71.2" fill="none" stroke="#4c4c4c" stroke-width="6.2" stroke-linecap="round" stroke-linejoin="round"/>
<polyline points="49,93.3 61,95.3 75,97.3 85,101.3" fill="none" stroke="#4c4c4c" stroke-width="6.2" stroke-linecap="round" stroke-linejoin="round"/>
<polyline points="75,87.3 85,83.3 93,75.3" fill="none" stroke="#4c4c4c" stroke-width="6.2" stroke-linecap="round" stroke-linejoin="round"/>
<polyline points="113.9,16.7 121.9,11.3 130,7.3" fill="none" stroke="#4c4c4c" stroke-width="6.2" stroke-linecap="round" stroke-linejoin="round"/>
<polyline points="113,26.3 127.3,20.7 138,18.1 146,19.4 156.8,27.4 167.5,38.2 181,51.6" fill="none" stroke="#4c4c4c" stroke-width="6.2" stroke-linecap="round" stroke-linejoin="round"/>
<polyline points="107.5,39.3 119.2,35.5 132.7,32.8 143.4,30.1 156.8,32.8 170.2,43.5 181,54.3" fill="none" stroke="#4c4c4c" stroke-width="6.2" stroke-linecap="round" stroke-linejoin="round"/>
<polyline points="101,51.3 113.9,46.3 127.3,43.5 140.7,43.5 151.4,46.2" fill="none" stroke="#4c4c4c" stroke-width="6.2" stroke-linecap="round" stroke-linejoin="round"/>
<polyline points="108.5,57 119.2,54.3 132.7,51.6 146,51.6 159.5,50.3 172.9,50.3 183.6,52.9" fill="none" stroke="#4c4c4c" stroke-width="6.2" stroke-linecap="round" stroke-linejoin="round"/>
<polyline points="119.2,65 132.7,61 146,59.6 159.5,58.3 175.6,57" fill="none" stroke="#4c4c4c" stroke-width="6.2" stroke-linecap="round" stroke-linejoin="round"/>
<polyline points="127.3,73.1 140.7,69 154.1,67.7 167.5,65" fill="none" stroke="#4c4c4c" stroke-width="6.2" stroke-linecap="round" stroke-linejoin="round"/>
<polyline points="105.8,65 111.2,73.1 116.6,81.1" fill="none" stroke="#4c4c4c" stroke-width="6.2" stroke-linecap="round" stroke-linejoin="round"/>
<polyline points="132.7,35.5 138,43.5 140.7,51.6" fill="none" stroke="#4c4c4c" stroke-width="6.2" stroke-linecap="round" stroke-linejoin="round"/>
<polyline points="124,11.3 139,9.3 149,13.3" fill="none" stroke="#4c4c4c" stroke-width="6.2" stroke-linecap="round" stroke-linejoin="round"/>
<polyline points="139,12.3 159,24.3 185,46.3" fill="none" stroke="#4c4c4c" stroke-width="6.2" stroke-linecap="round" stroke-linejoin="round"/>
<polyline points="86,69.3 97,63.3" fill="none" stroke="#4c4c4c" stroke-width="6.2" stroke-linecap="round" stroke-linejoin="round"/>
<polyline points="29.63,110.13 34.76,109.25 39.89,108.5 45.02,107.55 50.14,106.13 55.27,104.15 60.4,101.71 65.53,99.08 70.66,96.57 75.79,94.48 80.91,92.94" fill="none" stroke="#4c4c4c" stroke-width="6.2" stroke-linecap="round" stroke-linejoin="round"/>
<polyline points="80.91,92.94 125.51,78.27" fill="none" stroke="#4c4c4c" stroke-width="6.2" stroke-linecap="round" stroke-linejoin="round"/>
<polyline points="32.35,117.56 36.93,115.52 41.52,113.38 46.1,111.37 50.69,109.69 55.27,108.44 59.86,107.61 64.44,107.06 69.03,106.59 73.61,105.98 78.2,105.04" fill="none" stroke="#4c4c4c" stroke-width="6.2" stroke-linecap="round" stroke-linejoin="round"/>
<polyline points="36.12,123.4 41.79,121.82 47.46,119.57 53.12,116.7 58.79,113.54 64.46,110.54 70.12,108.1 75.79,106.36 81.46,105.15 87.12,104.08 92.79,102.71" fill="none" stroke="#4c4c4c" stroke-width="6.2" stroke-linecap="round" stroke-linejoin="round"/>
<polyline points="92.79,102.71 129.69,94.9" fill="none" stroke="#4c4c4c" stroke-width="6.2" stroke-linecap="round" stroke-linejoin="round"/>
<polyline points="35,130.46 40,128.69 44.99,126.58 49.99,124.39 54.98,122.4 59.98,120.84 64.98,119.79 69.97,119.17 74.97,118.77 79.96,118.3 84.96,117.49" fill="none" stroke="#4c4c4c" stroke-width="6.2" stroke-linecap="round" stroke-linejoin="round"/>
<polyline points="37.64,136.92 43.46,134.56 49.27,131.55 55.09,128.22 60.9,125.08 66.72,122.54 72.53,120.73 78.34,119.46 84.16,118.27 89.97,116.68 95.79,114.38" fill="none" stroke="#4c4c4c" stroke-width="6.2" stroke-linecap="round" stroke-linejoin="round"/>
<polyline points="95.79,114.38 120.9,107.68" fill="none" stroke="#4c4c4c" stroke-width="6.2" stroke-linecap="round" stroke-linejoin="round"/>
<polyline points="44.59,142.21 51.07,138.53 57.55,135.45 64.03,133.28 70.51,131.81 76.99,130.42 83.47,128.45 89.95,125.58 96.43,121.99 102.91,118.27 109.39,115.1" fill="none" stroke="#4c4c4c" stroke-width="6.2" stroke-linecap="round" stroke-linejoin="round"/>
<polyline points="109.39,115.1 152.84,96.69" fill="none" stroke="#4c4c4c" stroke-width="6.2" stroke-linecap="round" stroke-linejoin="round"/>
<polyline points="43.59,146.4 51.31,144.87 59.04,142.99 66.76,139.94 74.49,135.81 82.21,131.55 89.93,128.19 97.66,126.07 105.38,124.55 113.1,122.53 120.83,119.28" fill="none" stroke="#4c4c4c" stroke-width="6.2" stroke-linecap="round" stroke-linejoin="round"/>
<polyline points="120.83,119.28 140.19,107.82" fill="none" stroke="#4c4c4c" stroke-width="6.2" stroke-linecap="round" stroke-linejoin="round"/>
<polyline points="39.92,152.7 47.13,151.24 54.34,149.38 61.55,146.46 68.76,142.59 75.96,138.5 83.17,135.11 90.38,132.83 97.59,131.3 104.8,129.66 112.01,127.1" fill="none" stroke="#4c4c4c" stroke-width="6.2" stroke-linecap="round" stroke-linejoin="round"/>
<polyline points="112.01,127.1 148,111.68" fill="none" stroke="#4c4c4c" stroke-width="6.2" stroke-linecap="round" stroke-linejoin="round"/>
<polyline points="47.36,158.24 55.3,156.72 63.23,154.36 71.16,150.7 79.1,146.32 87.03,142.43 94.97,139.8 102.9,138.19 110.83,136.52 118.77,133.75 126.7,129.75" fill="none" stroke="#4c4c4c" stroke-width="6.2" stroke-linecap="round" stroke-linejoin="round"/>
<polyline points="126.7,129.75 162.77,117.21" fill="none" stroke="#4c4c4c" stroke-width="6.2" stroke-linecap="round" stroke-linejoin="round"/>
<polyline points="46.1,165.03 56.85,163.1 67.59,159.24 78.34,155.51 89.08,153.8 99.83,153.34 110.57,151.72 121.32,148.05 132.06,144.15 142.8,142.12 153.55,141.62" fill="none" stroke="#4c4c4c" stroke-width="6.2" stroke-linecap="round" stroke-linejoin="round"/>
<polyline points="48.2,172.02 52.8,170 57.4,167.85 61.99,165.8 66.59,164.06 71.19,162.74 75.79,161.84 80.38,161.26 84.98,160.79 89.58,160.2 94.17,159.3" fill="none" stroke="#4c4c4c" stroke-width="6.2" stroke-linecap="round" stroke-linejoin="round"/>
<polyline points="55.74,175.82 62.05,174.43 68.35,173.12 74.65,171.28 80.95,168.59 87.26,165.19 93.56,161.59 99.86,158.43 106.16,156.08 112.47,154.51 118.77,153.25" fill="none" stroke="#4c4c4c" stroke-width="6.2" stroke-linecap="round" stroke-linejoin="round"/>
<polyline points="118.77,153.25 148.48,141.18" fill="none" stroke="#4c4c4c" stroke-width="6.2" stroke-linecap="round" stroke-linejoin="round"/>
<polyline points="56.18,185.39 65.18,180.37 74.19,175.36 83.19,171.84 92.19,169.72 101.19,167.44 110.19,163.61 119.19,158.46 128.19,153.63 137.2,150.4 146.2,148.39" fill="none" stroke="#4c4c4c" stroke-width="6.2" stroke-linecap="round" stroke-linejoin="round"/>
<polyline points="146.2,148.39 175.74,132.98" fill="none" stroke="#4c4c4c" stroke-width="6.2" stroke-linecap="round" stroke-linejoin="round"/>
<polyline points="40.7,72.1 49,65.3 68.5,59.3 88,56.3 99.7,54.8" fill="none" stroke="#000000" stroke-width="2.5" stroke-linecap="round" stroke-linejoin="round"/>
<polyline points="44.6,72.1 50.5,81.9 64,89.7" fill="none" stroke="#000000" stroke-width="2.5" stroke-linecap="round" stroke-linejoin="round"/>
<polyline points="72,66.3 74,76 77.8,83.8" fill="none" stroke="#000000" stroke-width="2.5" stroke-linecap="round" stroke-linejoin="round"/>
<polyline points="58.3,68.3 62.2,76 66,83.8" fill="none" stroke="#000000" stroke-width="2.5" stroke-linecap="round" stroke-linejoin="round"/>
<polyline points="27.8,101.9 38,99 48.3,96.8 57,103.3 67.3,109.2" fill="none" stroke="#000000" stroke-width="2.5" stroke-linecap="round" stroke-linejoin="round"/>
<polyline points="43.9,87.3 57,87.3 70.2,83.3" fill="none" stroke="#000000" stroke-width="2.5" stroke-linecap="round" stroke-linejoin="round"/>
<polyline points="41,75.5 52.7,74.1 67.3,71.2" fill="none" stroke="#000000" stroke-width="2.5" stroke-linecap="round" stroke-linejoin="round"/>
<polyline points="49,93.3 61,95.3 75,97.3 85,101.3" fill="none" stroke="#000000" stroke-width="2.5" stroke-linecap="round" stroke-linejoin="round"/>
<polyline points="75,87.3 85,83.3 93,75.3" fill="none" stroke="#000000" stroke-width="2.5" stroke-linecap="round" stroke-linejoin="round"/>
<polyline points="113.9,16.7 121.9,11.3 130,7.3" fill="none" stroke="#000000" stroke-width="2.5" stroke-linecap="round" stroke-linejoin="round"/>
<polyline points="113,26.3 127.3,20.7 138,18.1 146,19.4 156.8,27.4 167.5,38.2 181,51.6" fill="none" stroke="#000000" stroke-width="2.5" stroke-linecap="round" stroke-linejoin="round"/>
<polyline points="107.5,39.3 119.2,35.5 132.7,32.8 143.4,30.1 156.8,32.8 170.2,43.5 181,54.3" fill="none" stroke="#000000" stroke-width="2.5" stroke-linecap="round" stroke-linejoin="round"/>
<polyline points="101,51.3 113.9,46.3 127.3,43.5 140.7,43.5 151.4,46.2" fill="none" stroke="#000000" stroke-width="2.5" stroke-linecap="round" stroke-linejoin="round"/>
<polyline points="108.5,57 119.2,54.3 132.7,51.6 146,51.6 159.5,50.3 172.9,50.3 183.6,52.9" fill="none" stroke="#000000" stroke-width="2.5" stroke-linecap="round" stroke-linejoin="round"/>
<polyline points="119.2,65 132.7,61 146,59.6 159.5,58.3 175.6,57" fill="none" stroke="#000000" stroke-width="2.5" stroke-linecap="round" stroke-linejoin="round"/>
<polyline points="127.3,73.1 140.7,69 154.1,67.7 167.5,65" fill="none" stroke="#000000" stroke-width="2.5" stroke-linecap="round" stroke-linejoin="round"/>
<polyline points="105.8,65 111.2,73.1 116.6,81.1" fill="none" stroke="#000000" stroke-width="2.5" stroke-linecap="round" stroke-linejoin="round"/>
<polyline points="132.7,35.5 138,43.5 140.7,51.6" fill="none" stroke="#000000" stroke-width="2.5" stroke-linecap="round" stroke-linejoin="round"/>
<polyline points="124,11.3 139,9.3 149,13.3" fill="none" stroke="#000000" stroke-width="2.5" stroke-linecap="round" stroke-linejoin="round"/>
<polyline points="139,12.3 159,24.3 185,46.3" fill="none" stroke="#000000" stroke-width="2.5" stroke-linecap="round" stroke-linejoin="round"/>
<polyline points="86,69.3 97,63.3" fill="none" stroke="#000000" stroke-width="2.5" stroke-linecap="round" stroke-linejoin="round"/>
<polyline points="29.63,110.13 34.76,109.25 39.89,108.5 45.02,107.55 50.14,106.13 55.27,104.15 60.4,101.71 65.53,99.08 70.66,96.57 75.79,94.48 80.91,92.94" fill="none" stroke="#000000" stroke-width="2.5" stroke-linecap="round" stroke-linejoin="round"/>
<polyline points="80.91,92.94 125.51,78.27" fill="none" stroke="#000000" stroke-width="2.5" stroke-linecap="round" stroke-linejoin="round"/>
<polyline points="32.35,117.56 36.93,115.52 41.52,113.38 46.1,111.37 50.69,109.69 55.27,108.44 59.86,107.61 64.44,107.06 69.03,106.59 73.61,105.98 78.2,105.04" fill="none" stroke="#000000" stroke-width="2.5" stroke-linecap="round" stroke-linejoin="round"/>
<polyline points="36.12,123.4 41.79,121.82 47.46,119.57 53.12,116.7 58.79,113.54 64.46,110.54 70.12,108.1 75.79,106.36 81.46,105.15 87.12,104.08 92.79,102.71" fill="none" stroke="#000000" stroke-width="2.5" stroke-linecap="round" stroke-linejoin="round"/>
<polyline points="92.79,102.71 129.69,94.9" fill="none" stroke="#000000" stroke-width="2.5" stroke-linecap="round" stroke-linejoin="round"/>
<polyline points="35,130.46 40,128.69 44.99,126.58 49.99,124.39 54.98,122.4 59.98,120.84 64.98,119.79 69.97,119.17 74.97,118.77 79.96,118.3 84.96,117.49" fill="none" stroke="#000000" stroke-width="2.5" stroke-linecap="round" stroke-linejoin="round"/>
<polyline points="37.64,136.92 43.46,134.56 49.27,131.55 55.09,128.22 60.9,125.08 66.72,122.54 72.53,120.73 78.34,119.46 84.16,118.27 89.97,116.68 95.79,114.38" fill="none" stroke="#000000" stroke-width="2.5" stroke-linecap="round" stroke-linejoin="round"/>
<polyline points="95.79,114.38 120.9,107.68" fill="none" stroke="#000000" stroke-width="2.5" stroke-linecap="round" stroke-linejoin="round"/>
<polyline points="44.59,142.21 51.07,138.53 57.55,135.45 64.03,133.28 70.51,131.81 76.99,130.42 83.47,128.45 89.95,125.58 96.43,121.99 102.91,118.27 109.39,115.1" fill="none" stroke="#000000" stroke-width="2.5" stroke-linecap="round" stroke-linejoin="round"/>
<polyline points="109.39,115.1 152.84,96.69" fill="none" stroke="#000000" stroke-width="2.5" stroke-linecap="round" stroke-linejoin="round"/>
<polyline points="43.59,146.4 51.31,144.87 59.04,142.99 66.76,139.94 74.49,135.81 82.21,131.55 89.93,128.19 97.66,126.07 105.38,124.55 113.1,122.53 120.83,119.28" fill="none" stroke="#000000" stroke-width="2.5" stroke-linecap="round" stroke-linejoin="round"/>
<polyline points="120.83,119.28 140.19,107.82" fill="none" stroke="#000000" stroke-width="2.5" stroke-linecap="round" stroke-linejoin="round"/>
<polyline points="39.92,152.7 47.13,151.24 54.34,149.38 61.55,146.46 68.76,142.59 75.96,138.5 83.17,135.11 90.38,132.83 97.59,131.3 104.8,129.66 112.01,127.1" fill="none" stroke="#000000" stroke-width="2.5" stroke-linecap="round" stroke-linejoin="round"/>
<polyline points="112.01,127.1 148,111.68" fill="none" stroke="#000000" stroke-width="2.5" stroke-linecap="round" stroke-linejoin="round"/>
<polyline points="47.36,158.24 55.3,156.72 63.23,154.36 71.16,150.7 79.1,146.32 87.03,142.43 94.97,139.8 102.9,138.19 110.83,136.52 118.77,133.75 126.7,129.75" fill="none" stroke="#000000" stroke-width="2.5" stroke-linecap="round" stroke-linejoin="round"/>
<polyline points="126.7,129.75 162.77,117.21" fill="none" stroke="#000000" stroke-width="2.5" stroke-linecap="round" stroke-linejoin="round"/>
<polyline points="46.1,165.03 56.85,163.1 67.59,159.24 78.34,155.51 89.08,153.8 99.83,153.34 110.57,151.72 121.32,148.05 132.06,144.15 142.8,142.12 153.55,141.62" fill="none" stroke="#000000" stroke-width="2.5" stroke-linecap="round" stroke-linejoin="round"/>
<polyline points="48.2,172.02 52.8,170 57.4,167.85 61.99,165.8 66.59,164.06 71.19,162.74 75.79,161.84 80.38,161.26 84.98,160.79 89.58,160.2 94.17,159.3" fill="none" stroke="#000000" stroke-width="2.5" stroke-linecap="round" stroke-linejoin="round"/>
<polyline points="55.74,175.82 62.05,174.43 68.35,173.12 74.65,171.28 80.95,168.59 87.26,165.19 93.56,161.59 99.86,158.43 106.16,156.08 112.47,154.51 118.77,153.25" fill="none" stroke="#000000" stroke-width="2.5" stroke-linecap="round" stroke-linejoin="round"/>
<polyline points="118.77,153.25 148.48,141.18" fill="none" stroke="#000000" stroke-width="2.5" stroke-linecap="round" stroke-linejoin="round"/>
<polyline points="56.18,185.39 65.18,180.37 74.19,175.36 83.19,171.84 92.19,169.72 101.19,167.44 110.19,163.61 119.19,158.46 128.19,153.63 137.2,150.4 146.2,148.39" fill="none" stroke="#000000" stroke-width="2.5" stroke-linecap="round" stroke-linejoin="round"/>
<polyline points="146.2,148.39 175.74,132.98" fill="none" stroke="#000000" stroke-width="2.5" stroke-linecap="round" stroke-linejoin="round"/>
</g>
<use href="#dots"/>
</g>
<polygon points="125.8,2.9 181.4,53.1 52.7,160.7 2.4,97.7" fill="none" stroke="#6a6a40" stroke-width="0.4"/>
</g>
<rect x="11" y="374.7" width="186" height="164.8" fill="none" stroke="#8a8a8a" stroke-width="1.1"/>
<line x1="19.1" y1="374.2" x2="19.1" y2="375.9" stroke="#666" stroke-width="0.6"/>
<line x1="16.1" y1="538.3" x2="16.1" y2="540" stroke="#666" stroke-width="0.6"/>
<text x="19.1" y="371.5" class="ax" text-anchor="middle">7°30'0"W</text>
<text x="16.1" y="545.6" class="ax" text-anchor="middle">7°30'0"W</text>
<line x1="56.4" y1="374.2" x2="56.4" y2="375.9" stroke="#666" stroke-width="0.6"/>
<line x1="53.9" y1="538.3" x2="53.9" y2="540" stroke="#666" stroke-width="0.6"/>
<text x="56.4" y="371.5" class="ax" text-anchor="middle">7°0'0"W</text>
<text x="53.9" y="545.6" class="ax" text-anchor="middle">7°0'0"W</text>
<line x1="93.9" y1="374.2" x2="93.9" y2="375.9" stroke="#666" stroke-width="0.6"/>
<line x1="91.6" y1="538.3" x2="91.6" y2="540" stroke="#666" stroke-width="0.6"/>
<text x="93.9" y="371.5" class="ax" text-anchor="middle">6°30'0"W</text>
<text x="91.6" y="545.6" class="ax" text-anchor="middle">6°30'0"W</text>
<line x1="130.1" y1="374.2" x2="130.1" y2="375.9" stroke="#666" stroke-width="0.6"/>
<line x1="129.3" y1="538.3" x2="129.3" y2="540" stroke="#666" stroke-width="0.6"/>
<text x="130.1" y="371.5" class="ax" text-anchor="middle">6°0'0"W</text>
<text x="129.3" y="545.6" class="ax" text-anchor="middle">6°0'0"W</text>
<line x1="167.6" y1="374.2" x2="167.6" y2="375.9" stroke="#666" stroke-width="0.6"/>
<line x1="167.1" y1="538.3" x2="167.1" y2="540" stroke="#666" stroke-width="0.6"/>
<text x="167.6" y="371.5" class="ax" text-anchor="middle">5°30'0"W</text>
<text x="167.1" y="545.6" class="ax" text-anchor="middle">5°30'0"W</text>
<line x1="10.5" y1="409.9" x2="12.2" y2="409.9" stroke="#666" stroke-width="0.6"/>
<line x1="195.8" y1="409.9" x2="197.5" y2="409.9" stroke="#666" stroke-width="0.6"/>
<text class="ax" text-anchor="middle" transform="translate(8,410.5) rotate(-90)">32°30'0"N</text>
<text class="ax" text-anchor="middle" transform="translate(200.6,410.5) rotate(90)">32°30'0"N</text>
<line x1="10.5" y1="453.2" x2="12.2" y2="453.2" stroke="#666" stroke-width="0.6"/>
<line x1="195.8" y1="453.2" x2="197.5" y2="453.2" stroke="#666" stroke-width="0.6"/>
<text class="ax" text-anchor="middle" transform="translate(8,453.8) rotate(-90)">32°0'0"N</text>
<text class="ax" text-anchor="middle" transform="translate(200.6,453.8) rotate(90)">32°0'0"N</text>
<line x1="10.5" y1="497.7" x2="12.2" y2="497.7" stroke="#666" stroke-width="0.6"/>
<line x1="195.8" y1="497.7" x2="197.5" y2="497.7" stroke="#666" stroke-width="0.6"/>
<text class="ax" text-anchor="middle" transform="translate(8,498.3) rotate(-90)">31°30'0"N</text>
<text class="ax" text-anchor="middle" transform="translate(200.6,498.3) rotate(90)">31°30'0"N</text>
<rect x="14.9" y="382.3" width="80" height="2.3" fill="#000"/>
<rect x="20.1" y="382.65" width="4.6" height="1.6" fill="#fafafa"/>
<rect x="30.1" y="382.65" width="4.6" height="1.6" fill="#fafafa"/>
<rect x="55.1" y="382.65" width="19.6" height="1.6" fill="#fafafa"/>
<text x="14.9" y="379.9" class="sb" text-anchor="middle">0</text>
<text x="24.9" y="379.9" class="sb" text-anchor="middle">12.5</text>
<text x="34.9" y="379.9" class="sb" text-anchor="middle">25</text>
<text x="54.9" y="379.9" class="sb" text-anchor="middle">50</text>
<text x="74.9" y="379.9" class="sb" text-anchor="middle">75</text>
<text x="94.9" y="379.9" class="sb" text-anchor="middle">100</text>
<text x="95.8" y="384.6" class="sb">Kilometers</text>
<text x="183.6" y="385.2" class="nn" text-anchor="middle">N</text>
<circle cx="183.6" cy="387.9" r="1.05" fill="#f4f4f4" stroke="#6a6a6a" stroke-width="0.7"/>
<path d="M179.1 391 Q183.6 389.9 188.1 391 L187.6 394.7 Q186.2 397.7 183.6 398.1 Q181 397.7 179.6 394.7 Z" fill="#767676"/>
<path d="M180.6 391.6 L183.6 394.6 L186.6 391.6" fill="none" stroke="#e6e6e6" stroke-width="0.9"/>
<path d="M180.4 393.3 L183.6 396.1 L186.8 393.3" fill="none" stroke="#555" stroke-width="0.6"/>
<rect x="182.3" y="397.6" width="2.6" height="4.4" fill="#767676"/>
<rect x="183.1" y="399.7" width="1.0" height="1.4" fill="#d0d0d0"/>
<text x="139.6" y="482.3" class="lg">Legend</text>
<circle cx="142.7" cy="488.9" r="0.7" fill="#3d4a3a"/>
<text x="147" y="490.3" class="li">Spring Training</text>
<circle cx="142.7" cy="495.9" r="0.7" fill="#c8c060"/>
<text x="147" y="497.3" class="li">Spring Testing</text>
<text x="139.6" y="505.8" class="lt">Distance to Faults (m)</text>
<rect x="139.3" y="509.9" width="6.6" height="11.6" fill="url(#cbq)"/>
<text x="147" y="511.7" class="li">High : 34536.3</text>
<text x="147" y="523.3" class="li">Low : 0</text>
<text x="15.8" y="531.3" class="pl">(q)</text>
<g transform="translate(213,374.7)">
<g clip-path="url(#clipr)"><g filter="url(#flr)">
<rect x="-10" y="-10" width="210" height="190" fill="#141414"/>
<polygon points="26,96 44,94 50,100 44,108 26,108" fill="#757575"/>
<polygon points="37,64 60,52 80,50 95,55 100,65 92,92 80,100 60,100 40,92 36,76" fill="#858585"/>
<polygon points="73,94 100,88 120,80 140,62 160,50 178,54 150,80 125,100 100,125 80,145 60,140 72,120" fill="#858585"/>
<polygon points="34,130 73,129 80,142 60,148 40,142" fill="#858585"/>
<polygon points="87,49 101,49 110,60 104,81 90,81 85,65" fill="#858585"/>
<polygon points="110,10 136,4 138,16 128,30 118,40 108,55 100,60 98,48 106,32" fill="#858585"/>
<polygon points="140,32 170,36 182,54 170,60 150,48" fill="#858585"/>
<polygon points="95,40 115,36 125,45 112,52" fill="#858585"/>
<polygon points="100,45 125,38 145,40 150,55 145,75 130,85 110,85 98,70" fill="#757575"/>
<ellipse cx="79" cy="75" rx="11" ry="10" fill="#1a1a1a"/>
<ellipse cx="110" cy="63" rx="8" ry="7" fill="#474747"/>
<ellipse cx="137" cy="97" rx="9" ry="6" fill="#262626" transform="rotate(-37.5 137 97)"/>
<ellipse cx="86" cy="120" rx="6" ry="4" fill="#262626"/>
<ellipse cx="147" cy="24" rx="11" ry="8" fill="#1a1a1a"/>
<ellipse cx="69.5" cy="61.5" rx="8.5" ry="5.5" fill="#c2c2c2" transform="rotate(-20 69.5 61.5)"/>
<ellipse cx="52.5" cy="76" rx="8.5" ry="6" fill="#c2c2c2" transform="rotate(-30 52.5 76)"/>
<ellipse cx="67" cy="88" rx="8.5" ry="6" fill="#c2c2c2" transform="rotate(-30 67 88)"/>
<ellipse cx="129.5" cy="22" rx="6" ry="5" fill="#c2c2c2"/>
<ellipse cx="129" cy="21" rx="3" ry="2.5" fill="#dbdbdb"/>
<ellipse cx="135" cy="33" rx="8" ry="6" fill="#c2c2c2"/>
<ellipse cx="136" cy="33" rx="4" ry="3" fill="#dbdbdb"/>
<ellipse cx="118" cy="48" rx="7.5" ry="6" fill="#c2c2c2"/>
<ellipse cx="108" cy="82" rx="6" ry="6" fill="#c2c2c2"/>
<ellipse cx="90.5" cy="57.5" rx="3.5" ry="3.5" fill="#a8a8a8"/>
<ellipse cx="57" cy="112" rx="13" ry="7" fill="#c2c2c2" transform="rotate(-20 57 112)"/>
<ellipse cx="60" cy="109.5" rx="3.5" ry="3" fill="#dbdbdb"/>
<ellipse cx="157.5" cy="58.7" rx="14" ry="11" fill="#c2c2c2"/>
<ellipse cx="157.5" cy="58.7" rx="9" ry="7" fill="#ffffff"/>
<polygon points="44,141 74,139 84,142 62,162 50,156" fill="#757575"/>
<ellipse cx="76" cy="131.5" rx="7" ry="2.5" fill="#dbdbdb" transform="rotate(-15 76 131.5)"/>
<polygon points="24,114 40,110 56,114 58,124 64,127 68,132 64,139 54,138 48,130 28,130" fill="#ffffff"/>
</g>
<use href="#dots"/>
</g>
<polygon points="125.8,2.9 181.4,53.1 52.7,160.7 2.4,97.7" fill="none" stroke="#6a6a40" stroke-width="0.4"/>
</g>
<rect x="213" y="374.7" width="186" height="164.8" fill="none" stroke="#8a8a8a" stroke-width="1.1"/>
<line x1="221.1" y1="374.2" x2="221.1" y2="375.9" stroke="#666" stroke-width="0.6"/>
<line x1="218.1" y1="538.3" x2="218.1" y2="540" stroke="#666" stroke-width="0.6"/>
<text x="221.1" y="371.5" class="ax" text-anchor="middle">7°30'0"W</text>
<text x="218.1" y="545.6" class="ax" text-anchor="middle">7°30'0"W</text>
<line x1="258.4" y1="374.2" x2="258.4" y2="375.9" stroke="#666" stroke-width="0.6"/>
<line x1="255.9" y1="538.3" x2="255.9" y2="540" stroke="#666" stroke-width="0.6"/>
<text x="258.4" y="371.5" class="ax" text-anchor="middle">7°0'0"W</text>
<text x="255.9" y="545.6" class="ax" text-anchor="middle">7°0'0"W</text>
<line x1="295.9" y1="374.2" x2="295.9" y2="375.9" stroke="#666" stroke-width="0.6"/>
<line x1="293.6" y1="538.3" x2="293.6" y2="540" stroke="#666" stroke-width="0.6"/>
<text x="295.9" y="371.5" class="ax" text-anchor="middle">6°30'0"W</text>
<text x="293.6" y="545.6" class="ax" text-anchor="middle">6°30'0"W</text>
<line x1="332.1" y1="374.2" x2="332.1" y2="375.9" stroke="#666" stroke-width="0.6"/>
<line x1="331.3" y1="538.3" x2="331.3" y2="540" stroke="#666" stroke-width="0.6"/>
<text x="332.1" y="371.5" class="ax" text-anchor="middle">6°0'0"W</text>
<text x="331.3" y="545.6" class="ax" text-anchor="middle">6°0'0"W</text>
<line x1="369.6" y1="374.2" x2="369.6" y2="375.9" stroke="#666" stroke-width="0.6"/>
<line x1="369.1" y1="538.3" x2="369.1" y2="540" stroke="#666" stroke-width="0.6"/>
<text x="369.6" y="371.5" class="ax" text-anchor="middle">5°30'0"W</text>
<text x="369.1" y="545.6" class="ax" text-anchor="middle">5°30'0"W</text>
<line x1="212.5" y1="409.9" x2="214.2" y2="409.9" stroke="#666" stroke-width="0.6"/>
<line x1="397.8" y1="409.9" x2="399.5" y2="409.9" stroke="#666" stroke-width="0.6"/>
<text class="ax" text-anchor="middle" transform="translate(210,410.5) rotate(-90)">32°30'0"N</text>
<text class="ax" text-anchor="middle" transform="translate(402.6,410.5) rotate(90)">32°30'0"N</text>
<line x1="212.5" y1="453.2" x2="214.2" y2="453.2" stroke="#666" stroke-width="0.6"/>
<line x1="397.8" y1="453.2" x2="399.5" y2="453.2" stroke="#666" stroke-width="0.6"/>
<text class="ax" text-anchor="middle" transform="translate(210,453.8) rotate(-90)">32°0'0"N</text>
<text class="ax" text-anchor="middle" transform="translate(402.6,453.8) rotate(90)">32°0'0"N</text>
<line x1="212.5" y1="497.7" x2="214.2" y2="497.7" stroke="#666" stroke-width="0.6"/>
<line x1="397.8" y1="497.7" x2="399.5" y2="497.7" stroke="#666" stroke-width="0.6"/>
<text class="ax" text-anchor="middle" transform="translate(210,498.3) rotate(-90)">31°30'0"N</text>
<text class="ax" text-anchor="middle" transform="translate(402.6,498.3) rotate(90)">31°30'0"N</text>
<rect x="216.9" y="382.3" width="80" height="2.3" fill="#000"/>
<rect x="222.1" y="382.65" width="4.6" height="1.6" fill="#fafafa"/>
<rect x="232.1" y="382.65" width="4.6" height="1.6" fill="#fafafa"/>
<rect x="257.1" y="382.65" width="19.6" height="1.6" fill="#fafafa"/>
<text x="216.9" y="379.9" class="sb" text-anchor="middle">0</text>
<text x="226.9" y="379.9" class="sb" text-anchor="middle">12.5</text>
<text x="236.9" y="379.9" class="sb" text-anchor="middle">25</text>
<text x="256.9" y="379.9" class="sb" text-anchor="middle">50</text>
<text x="276.9" y="379.9" class="sb" text-anchor="middle">75</text>
<text x="296.9" y="379.9" class="sb" text-anchor="middle">100</text>
<text x="297.8" y="384.6" class="sb">Kilometers</text>
<text x="385.6" y="385.2" class="nn" text-anchor="middle">N</text>
<circle cx="385.6" cy="387.9" r="1.05" fill="#f4f4f4" stroke="#6a6a6a" stroke-width="0.7"/>
<path d="M381.1 391 Q385.6 389.9 390.1 391 L389.6 394.7 Q388.2 397.7 385.6 398.1 Q383 397.7 381.6 394.7 Z" fill="#767676"/>
<path d="M382.6 391.6 L385.6 394.6 L388.6 391.6" fill="none" stroke="#e6e6e6" stroke-width="0.9"/>
<path d="M382.4 393.3 L385.6 396.1 L388.8 393.3" fill="none" stroke="#555" stroke-width="0.6"/>
<rect x="384.3" y="397.6" width="2.6" height="4.4" fill="#767676"/>
<rect x="385.1" y="399.7" width="1.0" height="1.4" fill="#d0d0d0"/>
<text x="341.6" y="482.3" class="lg">Legend</text>
<circle cx="344.7" cy="488.9" r="0.7" fill="#3d4a3a"/>
<text x="349" y="490.3" class="li">Spring Training</text>
<circle cx="344.7" cy="495.9" r="0.7" fill="#c8c060"/>
<text x="349" y="497.3" class="li">Spring Testing</text>
<text x="341.6" y="505.8" class="lt">Faults Density</text>
<rect x="341.3" y="509.9" width="6.6" height="11.6" fill="url(#cbr)"/>
<text x="349" y="511.7" class="li">High : 0.459022</text>
<text x="349" y="523.3" class="li">Low : 0</text>
<text x="217.8" y="531.3" class="pl">(r)</text></svg></body></html>
